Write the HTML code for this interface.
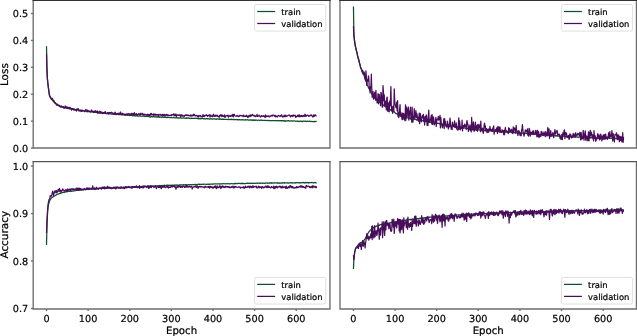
<!DOCTYPE html>
<html><head><meta charset="utf-8"><title>Training curves</title>
<style>html,body{margin:0;padding:0;background:#fff;} svg{display:block;} text{fill:#000;stroke:#000;stroke-width:0.22px;text-rendering:geometricPrecision;}</style>
</head><body>
<svg width="637" height="336" viewBox="0 0 637 336">
<rect x="0" y="0" width="637" height="336" fill="#fff"/>
<clipPath id="c00"><rect x="33.2" y="0.0" width="296.75" height="148.0"/></clipPath>
<g clip-path="url(#c00)">
<polyline points="46.50,46.34 46.92,67.29 47.33,77.61 47.75,82.38 48.16,85.72 48.58,89.35 49.00,92.36 49.41,94.54 49.83,96.32 50.25,97.29 50.66,97.84 51.08,98.51 51.49,99.13 51.91,99.81 52.33,100.13 52.74,100.45 53.16,101.21 53.58,101.49 53.99,102.16 54.41,102.48 54.82,102.97 55.24,103.11 55.66,103.65 56.07,103.76 56.49,104.12 56.91,104.50 57.32,105.18 57.74,105.14 58.15,105.33 58.57,105.55 58.99,106.04 59.40,106.08 59.82,106.36 60.23,106.50 60.65,106.36 61.07,106.81 61.48,106.83 61.90,106.81 62.32,107.17 62.73,107.21 63.15,107.29 63.56,107.40 63.98,107.71 64.40,107.60 64.81,107.49 65.23,108.06 65.65,107.76 66.06,107.97 66.48,108.18 66.89,107.85 67.31,108.14 67.73,108.54 68.14,108.42 68.56,108.42 68.97,108.63 69.39,108.56 69.81,108.76 70.22,108.72 70.64,108.67 71.06,109.08 71.47,109.02 71.89,109.19 72.30,109.17 72.72,109.45 73.14,109.42 73.55,109.43 73.97,109.32 74.39,109.35 74.80,109.82 75.22,109.80 75.63,109.64 76.05,110.13 76.47,109.95 76.88,109.95 77.30,109.80 77.72,109.96 78.13,110.19 78.55,110.26 78.96,110.30 79.38,110.08 79.80,110.45 80.21,110.50 80.63,110.45 81.04,110.59 81.46,110.66 81.88,110.87 82.29,110.75 82.71,110.88 83.13,110.67 83.54,110.81 83.96,110.98 84.37,110.92 84.79,111.14 85.21,110.97 85.62,111.19 86.04,111.15 86.46,111.51 86.87,111.30 87.29,111.68 87.70,111.78 88.12,111.56 88.54,111.70 88.95,111.58 89.37,111.29 89.78,111.84 90.20,111.86 90.62,111.77 91.03,111.77 91.45,111.93 91.87,111.98 92.28,111.88 92.70,111.95 93.11,112.25 93.53,112.14 93.95,112.17 94.36,112.39 94.78,112.22 95.20,112.45 95.61,112.20 96.03,112.37 96.44,112.43 96.86,112.58 97.28,112.55 97.69,112.89 98.11,112.80 98.53,112.60 98.94,113.04 99.36,112.60 99.77,113.06 100.19,112.70 100.61,113.00 101.02,112.78 101.44,112.92 101.85,113.23 102.27,112.82 102.69,112.83 103.10,113.12 103.52,113.19 103.94,113.21 104.35,113.38 104.77,113.09 105.18,113.39 105.60,113.35 106.02,113.51 106.43,113.52 106.85,113.66 107.27,113.29 107.68,113.56 108.10,113.41 108.51,113.60 108.93,113.75 109.35,113.73 109.76,113.81 110.18,113.75 110.59,113.85 111.01,113.88 111.43,114.09 111.84,114.03 112.26,113.67 112.68,114.08 113.09,114.18 113.51,113.99 113.92,113.86 114.34,114.36 114.76,114.19 115.17,114.30 115.59,114.51 116.01,114.15 116.42,114.30 116.84,114.32 117.25,114.49 117.67,114.33 118.09,114.53 118.50,114.50 118.92,114.69 119.34,114.74 119.75,114.36 120.17,114.70 120.58,114.60 121.00,114.69 121.42,114.79 121.83,114.83 122.25,114.68 122.66,114.86 123.08,114.87 123.50,114.88 123.91,114.72 124.33,114.83 124.75,114.91 125.16,115.10 125.58,115.26 125.99,114.92 126.41,114.94 126.83,115.15 127.24,115.07 127.66,115.06 128.08,115.09 128.49,115.10 128.91,115.35 129.32,115.06 129.74,115.54 130.16,115.23 130.57,115.31 130.99,115.28 131.40,115.15 131.82,115.24 132.24,115.69 132.65,115.81 133.07,115.43 133.49,115.75 133.90,115.62 134.32,115.51 134.73,115.94 135.15,116.04 135.57,115.68 135.98,115.74 136.40,115.82 136.82,115.80 137.23,115.97 137.65,116.10 138.06,115.91 138.48,116.07 138.90,116.20 139.31,115.88 139.73,116.00 140.15,115.95 140.56,116.20 140.98,116.17 141.39,116.25 141.81,116.26 142.23,116.11 142.64,116.29 143.06,116.13 143.47,116.16 143.89,115.91 144.31,116.49 144.72,116.14 145.14,116.33 145.56,116.34 145.97,116.59 146.39,116.46 146.80,116.29 147.22,116.44 147.64,116.44 148.05,116.52 148.47,116.31 148.89,116.53 149.30,116.90 149.72,116.68 150.13,116.91 150.55,117.14 150.97,116.72 151.38,116.44 151.80,116.67 152.21,116.89 152.63,116.88 153.05,116.57 153.46,116.74 153.88,116.78 154.30,116.82 154.71,116.83 155.13,116.73 155.54,116.79 155.96,116.86 156.38,117.09 156.79,116.86 157.21,117.07 157.63,116.81 158.04,117.21 158.46,117.05 158.87,117.04 159.29,117.28 159.71,116.81 160.12,116.87 160.54,117.20 160.95,117.02 161.37,117.10 161.79,117.61 162.20,117.16 162.62,117.23 163.04,117.23 163.45,117.44 163.87,117.32 164.28,117.33 164.70,117.13 165.12,117.28 165.53,117.36 165.95,117.13 166.37,117.48 166.78,117.47 167.20,117.72 167.61,117.19 168.03,117.31 168.45,117.34 168.86,117.39 169.28,117.50 169.70,117.50 170.11,117.60 170.53,117.61 170.94,117.58 171.36,117.36 171.78,117.53 172.19,117.65 172.61,117.75 173.02,117.78 173.44,117.43 173.86,117.63 174.27,117.72 174.69,117.80 175.11,117.94 175.52,117.79 175.94,117.65 176.35,117.87 176.77,117.86 177.19,117.88 177.60,117.84 178.02,118.13 178.44,117.93 178.85,118.04 179.27,117.78 179.68,118.06 180.10,117.86 180.52,117.72 180.93,118.03 181.35,118.09 181.77,117.98 182.18,118.02 182.60,118.20 183.01,117.98 183.43,117.74 183.85,118.12 184.26,118.13 184.68,118.28 185.09,118.07 185.51,118.34 185.93,118.33 186.34,117.96 186.76,118.33 187.18,118.02 187.59,117.96 188.01,118.18 188.42,118.14 188.84,117.93 189.26,118.29 189.67,118.37 190.09,118.50 190.51,118.29 190.92,118.07 191.34,118.17 191.75,118.49 192.17,118.49 192.59,118.44 193.00,118.33 193.42,118.42 193.83,118.36 194.25,118.36 194.67,118.47 195.08,118.44 195.50,118.41 195.92,118.47 196.33,118.39 196.75,118.18 197.16,118.40 197.58,118.50 198.00,118.79 198.41,118.47 198.83,118.86 199.25,118.78 199.66,118.43 200.08,118.46 200.49,118.61 200.91,118.88 201.33,118.67 201.74,118.73 202.16,118.53 202.58,118.28 202.99,118.62 203.41,118.79 203.82,118.87 204.24,118.70 204.66,118.73 205.07,118.90 205.49,118.71 205.90,118.92 206.32,118.57 206.74,118.59 207.15,118.60 207.57,118.86 207.99,118.71 208.40,118.83 208.82,118.88 209.23,118.88 209.65,119.05 210.07,119.08 210.48,118.73 210.90,118.90 211.32,118.85 211.73,118.73 212.15,119.19 212.56,119.05 212.98,118.90 213.40,118.88 213.81,119.01 214.23,118.80 214.64,118.94 215.06,119.18 215.48,119.15 215.89,118.88 216.31,118.95 216.73,119.34 217.14,118.83 217.56,118.96 217.97,118.85 218.39,119.14 218.81,119.14 219.22,119.28 219.64,118.70 220.06,119.15 220.47,118.88 220.89,119.25 221.30,119.13 221.72,119.44 222.14,119.25 222.55,119.04 222.97,119.41 223.39,119.05 223.80,119.18 224.22,119.41 224.63,119.34 225.05,119.34 225.47,119.29 225.88,119.38 226.30,119.44 226.71,119.36 227.13,119.49 227.55,119.55 227.96,119.36 228.38,119.22 228.80,119.62 229.21,119.38 229.63,119.50 230.04,119.57 230.46,119.28 230.88,119.52 231.29,119.20 231.71,119.58 232.13,119.41 232.54,119.52 232.96,119.61 233.37,119.41 233.79,119.54 234.21,119.43 234.62,119.55 235.04,119.73 235.45,119.58 235.87,119.57 236.29,119.43 236.70,119.74 237.12,119.62 237.54,119.90 237.95,119.53 238.37,119.82 238.78,119.95 239.20,119.68 239.62,119.50 240.03,119.94 240.45,119.88 240.87,119.84 241.28,119.91 241.70,119.68 242.11,119.88 242.53,119.88 242.95,119.68 243.36,119.91 243.78,119.73 244.19,119.97 244.61,120.02 245.03,120.13 245.44,119.54 245.86,119.91 246.28,119.83 246.69,119.88 247.11,119.86 247.52,119.89 247.94,119.61 248.36,120.09 248.77,120.19 249.19,120.11 249.61,120.18 250.02,119.85 250.44,119.85 250.85,120.15 251.27,120.23 251.69,120.07 252.10,119.80 252.52,120.49 252.94,119.97 253.35,120.24 253.77,119.90 254.18,120.26 254.60,120.14 255.02,120.35 255.43,120.28 255.85,119.91 256.26,120.01 256.68,120.22 257.10,120.30 257.51,120.48 257.93,120.25 258.35,120.20 258.76,120.22 259.18,120.23 259.59,120.41 260.01,120.25 260.43,120.26 260.84,120.05 261.26,119.97 261.68,120.31 262.09,120.42 262.51,120.32 262.92,120.41 263.34,120.45 263.76,120.35 264.17,120.52 264.59,120.26 265.00,120.39 265.42,120.34 265.84,120.42 266.25,120.52 266.67,120.57 267.09,120.46 267.50,120.52 267.92,120.41 268.33,120.46 268.75,120.69 269.17,120.46 269.58,120.70 270.00,120.60 270.42,120.55 270.83,120.85 271.25,120.51 271.66,120.51 272.08,120.57 272.50,120.63 272.91,120.63 273.33,120.74 273.75,120.63 274.16,120.69 274.58,120.60 274.99,120.82 275.41,120.59 275.83,120.62 276.24,120.67 276.66,120.73 277.07,120.58 277.49,120.95 277.91,120.62 278.32,120.66 278.74,120.67 279.16,120.66 279.57,120.84 279.99,120.78 280.40,120.65 280.82,120.69 281.24,120.74 281.65,121.03 282.07,120.71 282.49,120.61 282.90,120.65 283.32,120.79 283.73,121.08 284.15,120.69 284.57,120.88 284.98,121.27 285.40,120.81 285.81,121.12 286.23,121.10 286.65,121.01 287.06,120.71 287.48,120.98 287.90,120.89 288.31,120.66 288.73,120.69 289.14,120.98 289.56,121.01 289.98,121.18 290.39,121.10 290.81,120.93 291.23,120.95 291.64,121.00 292.06,120.87 292.47,121.16 292.89,121.06 293.31,120.94 293.72,120.97 294.14,120.91 294.56,121.02 294.97,121.15 295.39,121.05 295.80,121.28 296.22,121.39 296.64,121.04 297.05,121.15 297.47,121.11 297.88,121.44 298.30,121.23 298.72,121.28 299.13,121.33 299.55,121.57 299.97,121.27 300.38,121.08 300.80,121.17 301.21,121.34 301.63,121.25 302.05,121.14 302.46,121.72 302.88,121.30 303.30,121.20 303.71,121.19 304.13,121.03 304.54,121.13 304.96,121.28 305.38,121.29 305.79,121.22 306.21,121.44 306.62,121.37 307.04,121.23 307.46,121.07 307.87,121.42 308.29,121.41 308.71,121.38 309.12,121.20 309.54,121.43 309.95,121.20 310.37,121.60 310.79,121.49 311.20,121.50 311.62,121.35 312.04,121.31 312.45,121.74 312.87,121.65 313.28,121.46 313.70,121.63 314.12,121.78 314.53,121.37 314.95,121.47 315.37,121.48 315.78,121.64 316.20,121.41 316.61,121.62" fill="none" stroke="#0f4f2c" stroke-width="1.25" stroke-linejoin="round" stroke-linecap="butt"/>
<polyline points="46.50,53.88 46.92,69.28 47.33,78.12 47.75,82.05 48.16,86.10 48.58,88.79 49.00,92.27 49.41,95.40 49.83,96.16 50.25,97.29 50.66,97.11 51.08,98.71 51.49,99.15 51.91,98.59 52.33,98.39 52.74,99.00 53.16,100.68 53.58,101.01 53.99,100.59 54.41,102.08 54.82,103.04 55.24,102.73 55.66,102.89 56.07,104.07 56.49,104.94 56.91,105.13 57.32,104.07 57.74,105.28 58.15,105.14 58.57,105.16 58.99,105.13 59.40,105.95 59.82,105.61 60.23,106.68 60.65,106.50 61.07,107.08 61.48,105.82 61.90,106.70 62.32,107.29 62.73,107.15 63.15,107.18 63.56,106.69 63.98,108.28 64.40,108.02 64.81,107.69 65.23,105.90 65.65,107.01 66.06,107.79 66.48,107.35 66.89,106.57 67.31,108.14 67.73,108.31 68.14,107.38 68.56,107.93 68.97,107.90 69.39,108.74 69.81,107.24 70.22,107.46 70.64,108.27 71.06,108.27 71.47,110.10 71.89,108.45 72.30,109.06 72.72,108.72 73.14,108.63 73.55,109.36 73.97,110.30 74.39,109.03 74.80,109.81 75.22,109.61 75.63,109.85 76.05,109.75 76.47,111.08 76.88,108.86 77.30,109.55 77.72,109.05 78.13,108.55 78.55,109.87 78.96,111.11 79.38,110.58 79.80,110.84 80.21,110.44 80.63,110.12 81.04,111.52 81.46,110.06 81.88,111.31 82.29,110.19 82.71,110.50 83.13,110.69 83.54,110.58 83.96,110.93 84.37,111.03 84.79,111.77 85.21,110.75 85.62,109.58 86.04,109.54 86.46,110.02 86.87,110.46 87.29,111.40 87.70,110.07 88.12,111.09 88.54,111.14 88.95,111.33 89.37,111.12 89.78,111.50 90.20,111.32 90.62,112.01 91.03,111.59 91.45,109.92 91.87,111.47 92.28,111.62 92.70,111.17 93.11,111.09 93.53,112.31 93.95,111.76 94.36,111.07 94.78,111.53 95.20,111.66 95.61,110.77 96.03,112.25 96.44,111.80 96.86,112.23 97.28,110.96 97.69,113.22 98.11,112.43 98.53,112.37 98.94,111.64 99.36,111.71 99.77,111.24 100.19,113.19 100.61,111.72 101.02,112.43 101.44,112.70 101.85,111.96 102.27,112.93 102.69,113.71 103.10,112.64 103.52,113.40 103.94,112.89 104.35,112.26 104.77,112.33 105.18,111.54 105.60,112.72 106.02,113.61 106.43,113.14 106.85,113.28 107.27,113.50 107.68,112.46 108.10,113.19 108.51,114.08 108.93,112.38 109.35,112.94 109.76,112.66 110.18,112.86 110.59,112.54 111.01,112.96 111.43,112.21 111.84,112.77 112.26,112.82 112.68,112.84 113.09,114.07 113.51,113.27 113.92,113.36 114.34,113.08 114.76,114.13 115.17,112.22 115.59,113.24 116.01,114.12 116.42,114.47 116.84,113.57 117.25,113.48 117.67,113.91 118.09,113.41 118.50,113.91 118.92,113.17 119.34,114.02 119.75,113.60 120.17,112.97 120.58,111.97 121.00,114.31 121.42,113.98 121.83,114.25 122.25,113.23 122.66,114.50 123.08,114.09 123.50,113.82 123.91,114.46 124.33,114.47 124.75,114.18 125.16,115.25 125.58,114.85 125.99,114.20 126.41,113.86 126.83,114.10 127.24,115.14 127.66,114.32 128.08,113.52 128.49,113.70 128.91,114.12 129.32,114.67 129.74,113.70 130.16,114.50 130.57,114.90 130.99,114.68 131.40,113.24 131.82,114.05 132.24,113.46 132.65,114.54 133.07,113.64 133.49,114.65 133.90,114.38 134.32,112.68 134.73,113.81 135.15,114.64 135.57,114.39 135.98,114.14 136.40,113.58 136.82,114.70 137.23,115.52 137.65,114.59 138.06,114.41 138.48,114.37 138.90,113.60 139.31,114.26 139.73,113.96 140.15,115.21 140.56,113.95 140.98,113.17 141.39,114.04 141.81,114.39 142.23,114.46 142.64,113.42 143.06,115.19 143.47,114.67 143.89,114.32 144.31,114.15 144.72,114.92 145.14,114.45 145.56,114.84 145.97,114.60 146.39,114.77 146.80,115.44 147.22,114.73 147.64,114.16 148.05,115.36 148.47,114.90 148.89,114.33 149.30,115.46 149.72,114.66 150.13,115.48 150.55,114.07 150.97,113.32 151.38,113.52 151.80,114.98 152.21,114.37 152.63,114.78 153.05,114.80 153.46,113.88 153.88,115.74 154.30,114.22 154.71,114.94 155.13,114.01 155.54,114.81 155.96,115.38 156.38,114.77 156.79,114.49 157.21,114.95 157.63,114.67 158.04,115.33 158.46,116.38 158.87,114.43 159.29,114.57 159.71,114.93 160.12,114.99 160.54,114.38 160.95,115.35 161.37,115.52 161.79,115.19 162.20,114.31 162.62,115.99 163.04,114.33 163.45,115.52 163.87,115.83 164.28,114.31 164.70,115.20 165.12,115.98 165.53,115.38 165.95,114.56 166.37,114.40 166.78,115.45 167.20,114.92 167.61,114.73 168.03,115.61 168.45,114.97 168.86,115.23 169.28,115.57 169.70,115.54 170.11,115.19 170.53,115.22 170.94,115.61 171.36,115.53 171.78,114.54 172.19,115.13 172.61,114.71 173.02,114.51 173.44,114.91 173.86,113.83 174.27,115.84 174.69,114.79 175.11,115.52 175.52,114.13 175.94,114.23 176.35,116.60 176.77,115.97 177.19,114.92 177.60,114.85 178.02,114.89 178.44,115.41 178.85,115.08 179.27,114.96 179.68,115.44 180.10,114.73 180.52,116.86 180.93,114.99 181.35,116.08 181.77,114.80 182.18,115.57 182.60,116.00 183.01,115.19 183.43,116.03 183.85,116.03 184.26,116.46 184.68,115.47 185.09,115.14 185.51,114.81 185.93,115.56 186.34,114.80 186.76,115.47 187.18,115.55 187.59,115.12 188.01,114.82 188.42,115.72 188.84,115.67 189.26,115.62 189.67,115.47 190.09,116.11 190.51,114.87 190.92,115.79 191.34,115.24 191.75,116.08 192.17,115.32 192.59,115.30 193.00,115.83 193.42,114.26 193.83,115.33 194.25,114.43 194.67,114.96 195.08,116.01 195.50,115.84 195.92,115.31 196.33,115.56 196.75,115.57 197.16,115.79 197.58,116.78 198.00,115.76 198.41,117.05 198.83,115.39 199.25,116.10 199.66,116.10 200.08,115.78 200.49,115.47 200.91,116.57 201.33,116.78 201.74,116.34 202.16,116.98 202.58,116.29 202.99,114.64 203.41,116.35 203.82,115.25 204.24,116.56 204.66,115.49 205.07,115.89 205.49,115.73 205.90,115.33 206.32,114.56 206.74,115.57 207.15,115.62 207.57,116.34 207.99,115.33 208.40,115.87 208.82,115.18 209.23,115.75 209.65,114.60 210.07,117.01 210.48,115.92 210.90,115.16 211.32,115.96 211.73,116.25 212.15,115.91 212.56,116.64 212.98,115.67 213.40,114.17 213.81,115.01 214.23,116.47 214.64,116.32 215.06,116.02 215.48,115.12 215.89,116.30 216.31,116.22 216.73,115.20 217.14,115.22 217.56,116.02 217.97,116.50 218.39,116.78 218.81,116.24 219.22,117.23 219.64,115.30 220.06,116.20 220.47,115.48 220.89,114.59 221.30,115.04 221.72,116.54 222.14,115.24 222.55,115.05 222.97,116.29 223.39,116.42 223.80,115.88 224.22,116.84 224.63,114.86 225.05,117.37 225.47,116.53 225.88,115.99 226.30,115.97 226.71,115.71 227.13,115.65 227.55,115.96 227.96,115.09 228.38,117.21 228.80,115.83 229.21,116.29 229.63,115.75 230.04,115.69 230.46,116.43 230.88,116.25 231.29,115.33 231.71,115.62 232.13,116.28 232.54,114.53 232.96,114.35 233.37,116.79 233.79,115.66 234.21,114.23 234.62,115.35 235.04,115.71 235.45,115.99 235.87,116.21 236.29,116.00 236.70,116.22 237.12,115.38 237.54,116.12 237.95,116.15 238.37,116.64 238.78,115.90 239.20,116.45 239.62,115.99 240.03,115.20 240.45,115.64 240.87,115.55 241.28,115.65 241.70,115.84 242.11,115.96 242.53,116.08 242.95,115.39 243.36,116.59 243.78,115.02 244.19,115.87 244.61,116.37 245.03,116.21 245.44,116.33 245.86,115.79 246.28,116.36 246.69,115.16 247.11,116.40 247.52,117.37 247.94,116.37 248.36,117.20 248.77,115.93 249.19,115.22 249.61,115.48 250.02,116.77 250.44,116.40 250.85,114.76 251.27,115.70 251.69,115.91 252.10,115.23 252.52,114.33 252.94,115.07 253.35,115.82 253.77,115.68 254.18,115.51 254.60,116.31 255.02,116.60 255.43,115.88 255.85,116.53 256.26,115.96 256.68,115.86 257.10,114.41 257.51,116.47 257.93,116.00 258.35,116.03 258.76,115.64 259.18,115.25 259.59,116.24 260.01,116.45 260.43,116.98 260.84,116.52 261.26,115.58 261.68,115.90 262.09,116.58 262.51,116.17 262.92,115.91 263.34,115.60 263.76,116.31 264.17,116.09 264.59,117.10 265.00,116.67 265.42,114.88 265.84,117.34 266.25,116.15 266.67,115.79 267.09,116.17 267.50,116.45 267.92,115.97 268.33,115.93 268.75,115.98 269.17,117.14 269.58,116.03 270.00,116.48 270.42,116.28 270.83,115.78 271.25,115.52 271.66,115.35 272.08,116.25 272.50,115.33 272.91,115.17 273.33,115.20 273.75,115.03 274.16,116.02 274.58,116.04 274.99,115.40 275.41,116.81 275.83,115.80 276.24,116.27 276.66,116.17 277.07,117.06 277.49,116.51 277.91,115.94 278.32,115.36 278.74,115.29 279.16,115.98 279.57,116.05 279.99,116.47 280.40,115.67 280.82,116.09 281.24,115.54 281.65,114.80 282.07,115.95 282.49,116.90 282.90,116.49 283.32,116.87 283.73,116.70 284.15,115.09 284.57,115.78 284.98,116.91 285.40,115.51 285.81,115.12 286.23,116.16 286.65,116.37 287.06,116.15 287.48,115.75 287.90,115.52 288.31,115.17 288.73,115.15 289.14,115.16 289.56,115.05 289.98,115.50 290.39,116.92 290.81,116.02 291.23,115.73 291.64,116.18 292.06,115.34 292.47,116.16 292.89,116.53 293.31,115.00 293.72,115.50 294.14,115.79 294.56,115.33 294.97,115.24 295.39,115.71 295.80,117.52 296.22,116.37 296.64,116.23 297.05,116.57 297.47,115.80 297.88,115.16 298.30,116.24 298.72,116.66 299.13,114.62 299.55,116.22 299.97,116.73 300.38,115.78 300.80,115.66 301.21,116.39 301.63,115.42 302.05,116.25 302.46,116.53 302.88,115.82 303.30,115.43 303.71,116.34 304.13,115.72 304.54,115.99 304.96,114.11 305.38,116.39 305.79,115.04 306.21,115.96 306.62,116.01 307.04,115.46 307.46,115.35 307.87,115.11 308.29,115.72 308.71,116.32 309.12,116.28 309.54,115.60 309.95,115.56 310.37,115.03 310.79,115.66 311.20,115.25 311.62,114.95 312.04,115.82 312.45,116.89 312.87,116.69 313.28,116.86 313.70,114.90 314.12,116.48 314.53,115.13 314.95,115.55 315.37,114.82 315.78,115.28 316.20,116.00 316.61,116.06" fill="none" stroke="#4a0d5c" stroke-width="1.25" stroke-linejoin="round" stroke-linecap="butt"/>
</g>
<clipPath id="c10"><rect x="340.0" y="0.0" width="296.45000000000005" height="148.0"/></clipPath>
<g clip-path="url(#c10)">
<polyline points="353.45,6.48 353.87,32.31 354.28,38.66 354.70,42.19 355.11,44.35 355.53,47.10 355.95,48.55 356.36,50.62 356.78,52.20 357.20,53.86 357.61,55.81 358.03,57.32 358.44,59.46 358.86,60.43 359.28,62.30 359.69,63.57 360.11,65.19 360.53,67.26 360.94,68.26 361.36,69.35 361.77,70.24 362.19,71.54 362.61,72.48 363.02,73.73 363.44,74.02 363.86,74.90 364.27,76.33 364.69,77.56 365.10,79.11 365.52,79.85 365.94,80.73 366.35,82.37 366.77,83.39 367.18,84.59 367.60,85.87 368.02,86.27 368.43,87.68 368.85,88.29 369.27,88.99 369.68,89.64 370.10,90.52 370.51,91.30 370.93,92.30 371.35,93.16 371.76,93.59 372.18,94.45 372.60,95.23 373.01,95.84 373.43,96.25 373.84,97.09 374.26,97.49 374.68,98.05 375.09,98.13 375.51,98.53 375.92,98.62 376.34,99.79 376.76,100.02 377.17,100.06 377.59,100.68 378.01,101.07 378.42,100.97 378.84,101.73 379.25,102.23 379.67,102.57 380.09,102.52 380.50,102.84 380.92,103.51 381.34,103.73 381.75,103.72 382.17,104.02 382.58,104.59 383.00,104.63 383.42,104.95 383.83,105.76 384.25,105.74 384.66,105.88 385.08,106.39 385.50,107.02 385.91,106.91 386.33,106.98 386.75,107.08 387.16,108.18 387.58,107.42 387.99,108.50 388.41,108.32 388.83,108.53 389.24,108.85 389.66,109.30 390.08,109.84 390.49,109.72 390.91,110.26 391.32,110.91 391.74,110.01 392.16,110.72 392.57,110.73 392.99,111.57 393.41,111.31 393.82,111.53 394.24,111.79 394.65,112.39 395.07,112.90 395.49,112.94 395.90,113.63 396.32,113.77 396.73,113.64 397.15,114.11 397.57,114.17 397.98,114.39 398.40,114.18 398.82,114.53 399.23,115.02 399.65,114.95 400.06,115.56 400.48,115.64 400.90,115.54 401.31,116.17 401.73,116.13 402.15,116.51 402.56,116.35 402.98,116.17 403.39,116.83 403.81,116.76 404.23,117.14 404.64,117.32 405.06,117.47 405.47,117.02 405.89,116.94 406.31,117.46 406.72,117.83 407.14,117.64 407.56,117.97 407.97,117.83 408.39,118.04 408.80,118.14 409.22,118.16 409.64,118.51 410.05,118.57 410.47,118.94 410.89,118.75 411.30,119.05 411.72,118.85 412.13,119.11 412.55,118.96 412.97,118.97 413.38,119.45 413.80,119.40 414.22,119.50 414.63,119.22 415.05,119.09 415.46,119.35 415.88,119.68 416.30,119.37 416.71,120.08 417.13,119.51 417.54,120.05 417.96,120.58 418.38,119.49 418.79,119.80 419.21,120.44 419.63,120.26 420.04,120.42 420.46,120.43 420.87,120.85 421.29,120.75 421.71,120.58 422.12,120.71 422.54,120.58 422.96,120.90 423.37,120.48 423.79,121.22 424.20,121.09 424.62,121.63 425.04,121.56 425.45,121.08 425.87,121.64 426.28,121.40 426.70,121.60 427.12,121.89 427.53,121.81 427.95,121.92 428.37,121.99 428.78,121.79 429.20,121.89 429.61,122.23 430.03,122.37 430.45,122.19 430.86,122.34 431.28,122.17 431.70,121.90 432.11,122.36 432.53,122.62 432.94,122.72 433.36,122.94 433.78,123.03 434.19,123.12 434.61,123.06 435.03,123.14 435.44,122.97 435.86,123.28 436.27,123.32 436.69,123.61 437.11,123.07 437.52,123.39 437.94,123.19 438.35,123.48 438.77,123.40 439.19,123.85 439.60,123.72 440.02,123.37 440.44,124.29 440.85,123.85 441.27,123.82 441.68,124.17 442.10,124.17 442.52,124.14 442.93,124.63 443.35,124.48 443.77,124.83 444.18,124.87 444.60,124.93 445.01,124.90 445.43,124.91 445.85,124.92 446.26,125.41 446.68,124.74 447.10,124.99 447.51,125.16 447.93,125.48 448.34,125.49 448.76,125.42 449.18,125.53 449.59,126.06 450.01,125.60 450.42,125.19 450.84,126.31 451.26,125.76 451.67,125.96 452.09,126.14 452.51,125.88 452.92,126.51 453.34,126.28 453.75,126.06 454.17,126.50 454.59,126.61 455.00,126.56 455.42,126.75 455.84,126.37 456.25,126.98 456.67,126.65 457.08,127.18 457.50,126.82 457.92,127.05 458.33,127.66 458.75,127.15 459.16,127.45 459.58,127.37 460.00,126.99 460.41,127.64 460.83,127.69 461.25,127.20 461.66,127.55 462.08,127.30 462.49,127.63 462.91,127.95 463.33,127.83 463.74,127.60 464.16,127.73 464.58,127.99 464.99,128.04 465.41,128.14 465.82,128.30 466.24,127.80 466.66,128.28 467.07,128.59 467.49,128.50 467.90,128.29 468.32,128.36 468.74,128.59 469.15,128.76 469.57,128.67 469.99,129.10 470.40,129.07 470.82,128.65 471.23,128.99 471.65,128.85 472.07,128.72 472.48,128.89 472.90,129.08 473.32,128.67 473.73,129.04 474.15,129.32 474.56,129.12 474.98,129.24 475.40,129.57 475.81,129.41 476.23,129.51 476.65,129.95 477.06,129.60 477.48,129.67 477.89,129.75 478.31,130.06 478.73,129.82 479.14,129.79 479.56,129.80 479.97,130.12 480.39,129.76 480.81,130.21 481.22,130.03 481.64,129.73 482.06,130.21 482.47,130.21 482.89,129.89 483.30,130.25 483.72,130.27 484.14,130.19 484.55,130.04 484.97,130.79 485.39,130.52 485.80,130.59 486.22,130.64 486.63,130.62 487.05,130.65 487.47,130.43 487.88,130.72 488.30,130.53 488.72,130.50 489.13,130.78 489.55,130.61 489.96,130.31 490.38,130.63 490.80,130.87 491.21,130.77 491.63,130.99 492.04,130.75 492.46,130.65 492.88,131.05 493.29,130.94 493.71,130.68 494.13,131.06 494.54,130.94 494.96,131.23 495.37,131.21 495.79,131.17 496.21,130.62 496.62,131.20 497.04,131.26 497.46,131.29 497.87,131.23 498.29,131.09 498.70,131.21 499.12,130.84 499.54,131.27 499.95,131.03 500.37,131.31 500.78,131.27 501.20,131.74 501.62,131.48 502.03,131.50 502.45,131.57 502.87,132.01 503.28,131.39 503.70,131.69 504.11,131.73 504.53,131.72 504.95,131.75 505.36,131.64 505.78,132.04 506.20,132.00 506.61,131.77 507.03,131.83 507.44,131.98 507.86,132.05 508.28,132.14 508.69,132.01 509.11,131.78 509.52,132.30 509.94,131.78 510.36,131.96 510.77,132.27 511.19,132.04 511.61,132.56 512.02,132.65 512.44,132.59 512.85,132.44 513.27,132.46 513.69,132.54 514.10,132.44 514.52,132.96 514.94,132.43 515.35,132.88 515.77,132.75 516.18,132.73 516.60,132.93 517.02,133.01 517.43,132.97 517.85,132.79 518.27,132.70 518.68,132.74 519.10,133.12 519.51,133.11 519.93,133.17 520.35,132.91 520.76,133.49 521.18,132.82 521.59,133.22 522.01,133.33 522.43,133.12 522.84,133.01 523.26,133.19 523.68,133.07 524.09,133.31 524.51,133.11 524.92,133.14 525.34,133.46 525.76,133.17 526.17,133.48 526.59,133.53 527.01,133.78 527.42,133.68 527.84,133.48 528.25,133.97 528.67,133.58 529.09,133.68 529.50,133.73 529.92,134.30 530.34,133.88 530.75,133.75 531.17,134.08 531.58,133.93 532.00,134.50 532.42,133.87 532.83,134.19 533.25,133.89 533.66,134.51 534.08,133.99 534.50,134.23 534.91,134.03 535.33,134.44 535.75,134.40 536.16,133.82 536.58,134.51 536.99,134.51 537.41,134.45 537.83,134.65 538.24,134.20 538.66,134.12 539.08,134.67 539.49,134.92 539.91,134.33 540.32,134.37 540.74,134.47 541.16,134.43 541.57,134.89 541.99,134.77 542.40,135.07 542.82,135.10 543.24,134.62 543.65,135.00 544.07,134.40 544.49,134.90 544.90,135.09 545.32,134.81 545.73,134.62 546.15,134.94 546.57,135.33 546.98,135.02 547.40,134.83 547.82,135.27 548.23,135.36 548.65,135.00 549.06,135.22 549.48,135.52 549.90,135.39 550.31,135.50 550.73,135.30 551.14,135.37 551.56,135.18 551.98,135.30 552.39,135.82 552.81,135.42 553.23,135.35 553.64,135.47 554.06,135.37 554.47,135.74 554.89,135.86 555.31,135.48 555.72,135.94 556.14,136.20 556.56,135.54 556.97,135.95 557.39,135.88 557.80,136.15 558.22,136.16 558.64,136.15 559.05,136.00 559.47,135.87 559.89,136.47 560.30,135.84 560.72,136.29 561.13,136.29 561.55,135.94 561.97,136.13 562.38,136.47 562.80,135.76 563.21,136.37 563.63,136.16 564.05,136.19 564.46,135.96 564.88,136.38 565.30,136.09 565.71,136.50 566.13,136.12 566.54,136.55 566.96,136.49 567.38,136.02 567.79,136.39 568.21,136.46 568.63,136.02 569.04,136.45 569.46,136.73 569.87,136.41 570.29,136.85 570.71,136.37 571.12,136.38 571.54,136.79 571.95,136.82 572.37,136.67 572.79,136.73 573.20,136.96 573.62,136.65 574.04,137.23 574.45,136.91 574.87,136.92 575.28,136.92 575.70,136.81 576.12,137.16 576.53,136.79 576.95,136.98 577.37,137.10 577.78,137.28 578.20,137.26 578.61,136.95 579.03,137.25 579.45,137.05 579.86,136.86 580.28,136.88 580.70,136.79 581.11,137.21 581.53,137.40 581.94,136.96 582.36,137.14 582.78,136.98 583.19,137.24 583.61,137.00 584.02,137.10 584.44,137.15 584.86,137.21 585.27,137.25 585.69,137.31 586.11,137.33 586.52,137.18 586.94,137.53 587.35,137.06 587.77,137.48 588.19,137.26 588.60,137.51 589.02,137.56 589.44,137.09 589.85,137.61 590.27,137.84 590.68,137.74 591.10,137.67 591.52,137.15 591.93,137.59 592.35,137.45 592.76,137.89 593.18,137.61 593.60,137.56 594.01,137.34 594.43,137.89 594.85,137.63 595.26,137.71 595.68,138.01 596.09,137.81 596.51,137.88 596.93,138.35 597.34,137.73 597.76,137.76 598.18,137.99 598.59,138.20 599.01,137.61 599.42,137.89 599.84,137.74 600.26,137.67 600.67,138.11 601.09,137.84 601.51,138.08 601.92,138.06 602.34,138.08 602.75,138.08 603.17,137.85 603.59,138.08 604.00,138.16 604.42,138.20 604.83,138.08 605.25,138.36 605.67,138.29 606.08,138.21 606.50,138.34 606.92,138.26 607.33,138.38 607.75,137.83 608.16,137.99 608.58,138.19 609.00,138.32 609.41,137.85 609.83,138.27 610.25,138.37 610.66,138.30 611.08,138.31 611.49,138.09 611.91,138.41 612.33,137.97 612.74,138.63 613.16,138.30 613.58,138.68 613.99,138.09 614.41,138.57 614.82,138.52 615.24,138.32 615.66,138.27 616.07,138.79 616.49,138.64 616.90,138.88 617.32,138.56 617.74,138.63 618.15,138.69 618.57,138.78 618.99,138.73 619.40,138.82 619.82,138.56 620.23,138.36 620.65,139.11 621.07,138.73 621.48,138.81 621.90,138.63 622.32,138.95 622.73,138.79 623.15,139.00 623.56,138.64" fill="none" stroke="#0f4f2c" stroke-width="1.25" stroke-linejoin="round" stroke-linecap="butt"/>
<polyline points="353.45,26.15 353.87,36.38 354.28,38.58 354.70,42.09 355.11,44.42 355.53,46.87 355.95,48.34 356.36,50.49 356.78,51.74 357.20,53.29 357.61,55.95 358.03,57.37 358.44,58.62 358.86,59.51 359.28,62.34 359.69,63.77 360.11,65.19 360.53,67.16 360.94,68.63 361.36,68.69 361.77,70.72 362.19,72.09 362.61,70.35 363.02,73.82 363.44,72.87 363.86,71.87 364.27,72.36 364.69,76.65 365.10,76.80 365.52,80.59 365.94,70.94 366.35,76.95 366.77,85.35 367.18,81.75 367.60,79.69 368.02,81.04 368.43,75.77 368.85,78.36 369.27,88.55 369.68,86.85 370.10,92.97 370.51,86.53 370.93,87.99 371.35,74.19 371.76,89.40 372.18,97.21 372.60,95.54 373.01,91.49 373.43,99.03 373.84,98.56 374.26,96.00 374.68,92.37 375.09,95.46 375.51,100.15 375.92,90.32 376.34,99.35 376.76,99.34 377.17,102.89 377.59,101.70 378.01,93.62 378.42,103.81 378.84,98.56 379.25,94.42 379.67,101.21 380.09,97.54 380.50,105.70 380.92,92.26 381.34,93.72 381.75,98.79 382.17,106.90 382.58,107.17 383.00,85.60 383.42,91.42 383.83,100.50 384.25,94.95 384.66,105.91 385.08,103.99 385.50,103.52 385.91,100.96 386.33,109.91 386.75,98.14 387.16,97.03 387.58,110.37 387.99,111.45 388.41,102.84 388.83,108.86 389.24,111.82 389.66,101.19 390.08,105.51 390.49,99.09 390.91,86.60 391.32,106.69 391.74,110.94 392.16,106.73 392.57,113.31 392.99,112.55 393.41,105.70 393.82,111.33 394.24,88.86 394.65,99.46 395.07,104.62 395.49,105.03 395.90,107.32 396.32,107.75 396.73,102.20 397.15,110.98 397.57,100.64 397.98,116.46 398.40,112.41 398.82,117.64 399.23,113.77 399.65,109.04 400.06,104.66 400.48,116.15 400.90,112.49 401.31,115.08 401.73,117.05 402.15,119.69 402.56,113.10 402.98,119.36 403.39,113.37 403.81,113.79 404.23,117.66 404.64,119.65 405.06,120.69 405.47,104.82 405.89,120.17 406.31,106.98 406.72,112.15 407.14,116.74 407.56,111.33 407.97,107.76 408.39,107.04 408.80,120.04 409.22,117.02 409.64,110.95 410.05,113.61 410.47,107.02 410.89,118.93 411.30,114.06 411.72,122.12 412.13,107.06 412.55,119.90 412.97,122.23 413.38,116.33 413.80,117.68 414.22,108.64 414.63,118.42 415.05,116.86 415.46,114.49 415.88,110.55 416.30,117.42 416.71,113.38 417.13,115.08 417.54,119.14 417.96,118.08 418.38,117.21 418.79,121.55 419.21,113.15 419.63,123.60 420.04,113.36 420.46,114.31 420.87,119.15 421.29,121.88 421.71,119.47 422.12,116.70 422.54,115.46 422.96,117.69 423.37,114.38 423.79,121.51 424.20,118.14 424.62,125.07 425.04,116.49 425.45,118.51 425.87,121.38 426.28,114.79 426.70,116.91 427.12,125.37 427.53,119.76 427.95,125.42 428.37,115.88 428.78,110.09 429.20,122.09 429.61,120.10 430.03,121.53 430.45,119.01 430.86,118.03 431.28,115.39 431.70,123.94 432.11,114.53 432.53,124.45 432.94,119.92 433.36,116.79 433.78,118.59 434.19,124.98 434.61,124.02 435.03,122.74 435.44,121.48 435.86,117.33 436.27,126.48 436.69,120.23 437.11,119.18 437.52,119.71 437.94,119.86 438.35,116.31 438.77,120.03 439.19,119.16 439.60,118.38 440.02,115.33 440.44,127.93 440.85,117.71 441.27,123.23 441.68,123.66 442.10,126.12 442.52,127.79 442.93,124.50 443.35,125.42 443.77,118.94 444.18,128.53 444.60,118.51 445.01,122.53 445.43,121.30 445.85,125.95 446.26,126.70 446.68,127.19 447.10,125.45 447.51,121.23 447.93,124.69 448.34,128.87 448.76,124.94 449.18,127.14 449.59,124.16 450.01,118.06 450.42,121.77 450.84,125.99 451.26,129.24 451.67,129.25 452.09,129.60 452.51,122.20 452.92,126.47 453.34,124.77 453.75,126.75 454.17,124.90 454.59,120.86 455.00,127.44 455.42,126.54 455.84,127.62 456.25,122.97 456.67,128.57 457.08,129.43 457.50,129.85 457.92,130.14 458.33,124.95 458.75,117.99 459.16,129.26 459.58,120.92 460.00,124.97 460.41,129.78 460.83,127.29 461.25,126.67 461.66,128.42 462.08,120.16 462.49,130.89 462.91,125.55 463.33,125.59 463.74,128.13 464.16,126.04 464.58,124.10 464.99,126.35 465.41,125.64 465.82,124.97 466.24,129.54 466.66,122.59 467.07,120.49 467.49,124.32 467.90,124.02 468.32,131.39 468.74,126.01 469.15,129.99 469.57,129.22 469.99,124.99 470.40,130.27 470.82,127.84 471.23,131.93 471.65,117.42 472.07,127.25 472.48,129.79 472.90,130.03 473.32,121.86 473.73,129.89 474.15,131.24 474.56,130.33 474.98,124.50 475.40,122.17 475.81,127.24 476.23,130.44 476.65,130.03 477.06,125.28 477.48,131.17 477.89,124.30 478.31,124.72 478.73,128.44 479.14,126.72 479.56,126.43 479.97,124.40 480.39,131.67 480.81,121.09 481.22,129.96 481.64,130.80 482.06,128.75 482.47,128.20 482.89,131.60 483.30,133.40 483.72,130.72 484.14,124.83 484.55,123.21 484.97,127.76 485.39,125.95 485.80,130.93 486.22,129.72 486.63,128.66 487.05,132.61 487.47,132.13 487.88,129.30 488.30,130.31 488.72,132.26 489.13,128.54 489.55,130.23 489.96,126.27 490.38,129.51 490.80,130.60 491.21,129.28 491.63,130.35 492.04,131.52 492.46,130.67 492.88,127.81 493.29,127.93 493.71,125.93 494.13,134.14 494.54,130.93 494.96,131.29 495.37,129.62 495.79,131.33 496.21,130.95 496.62,127.90 497.04,129.65 497.46,133.45 497.87,126.41 498.29,127.20 498.70,131.72 499.12,127.43 499.54,132.21 499.95,126.81 500.37,130.82 500.78,132.40 501.20,131.68 501.62,132.51 502.03,129.88 502.45,130.00 502.87,130.83 503.28,131.84 503.70,134.71 504.11,130.40 504.53,134.74 504.95,130.01 505.36,127.48 505.78,130.22 506.20,131.99 506.61,131.19 507.03,131.13 507.44,132.41 507.86,132.58 508.28,133.59 508.69,127.73 509.11,130.76 509.52,128.65 509.94,131.40 510.36,130.71 510.77,131.68 511.19,129.74 511.61,129.29 512.02,130.96 512.44,133.36 512.85,133.49 513.27,126.97 513.69,132.24 514.10,129.16 514.52,128.01 514.94,128.49 515.35,130.42 515.77,132.78 516.18,125.44 516.60,130.86 517.02,130.53 517.43,132.40 517.85,135.51 518.27,133.30 518.68,130.65 519.10,131.06 519.51,132.72 519.93,135.24 520.35,135.69 520.76,133.33 521.18,135.63 521.59,129.84 522.01,129.27 522.43,124.64 522.84,129.67 523.26,133.74 523.68,134.36 524.09,136.24 524.51,133.66 524.92,132.59 525.34,129.89 525.76,130.53 526.17,130.90 526.59,131.95 527.01,131.01 527.42,128.83 527.84,135.29 528.25,134.16 528.67,136.24 529.09,128.37 529.50,129.27 529.92,131.28 530.34,136.04 530.75,132.27 531.17,133.69 531.58,132.70 532.00,133.98 532.42,131.47 532.83,134.22 533.25,130.60 533.66,132.85 534.08,133.76 534.50,133.50 534.91,134.19 535.33,131.25 535.75,130.28 536.16,132.01 536.58,134.54 536.99,136.82 537.41,130.25 537.83,136.45 538.24,131.37 538.66,131.98 539.08,137.67 539.49,136.43 539.91,134.69 540.32,135.55 540.74,136.61 541.16,131.43 541.57,134.52 541.99,131.86 542.40,135.20 542.82,133.27 543.24,135.61 543.65,134.06 544.07,131.82 544.49,133.77 544.90,135.30 545.32,136.71 545.73,131.67 546.15,132.99 546.57,135.01 546.98,136.07 547.40,132.36 547.82,127.57 548.23,135.15 548.65,133.08 549.06,128.78 549.48,138.56 549.90,134.04 550.31,136.39 550.73,130.55 551.14,135.04 551.56,136.26 551.98,134.87 552.39,134.02 552.81,132.57 553.23,134.47 553.64,137.57 554.06,134.97 554.47,132.62 554.89,129.51 555.31,132.55 555.72,134.18 556.14,131.97 556.56,131.76 556.97,130.41 557.39,131.93 557.80,135.45 558.22,134.44 558.64,134.64 559.05,134.16 559.47,134.31 559.89,137.58 560.30,138.93 560.72,137.10 561.13,139.38 561.55,134.74 561.97,135.10 562.38,139.56 562.80,132.87 563.21,132.99 563.63,134.88 564.05,130.63 564.46,129.83 564.88,138.66 565.30,132.25 565.71,134.27 566.13,133.96 566.54,132.98 566.96,137.44 567.38,136.63 567.79,137.63 568.21,137.51 568.63,135.27 569.04,139.41 569.46,138.58 569.87,133.81 570.29,136.03 570.71,134.31 571.12,136.88 571.54,137.92 571.95,137.33 572.37,135.56 572.79,137.32 573.20,133.38 573.62,135.79 574.04,136.17 574.45,135.86 574.87,133.96 575.28,137.20 575.70,132.70 576.12,134.88 576.53,135.35 576.95,135.85 577.37,134.65 577.78,133.46 578.20,133.63 578.61,134.89 579.03,133.81 579.45,135.71 579.86,132.38 580.28,135.94 580.70,139.96 581.11,132.49 581.53,136.08 581.94,139.19 582.36,136.67 582.78,138.41 583.19,130.41 583.61,134.61 584.02,140.29 584.44,134.62 584.86,134.12 585.27,130.92 585.69,139.22 586.11,140.53 586.52,135.99 586.94,137.48 587.35,137.16 587.77,140.68 588.19,135.06 588.60,131.84 589.02,140.77 589.44,132.81 589.85,138.18 590.27,130.28 590.68,135.51 591.10,132.04 591.52,133.06 591.93,135.11 592.35,138.09 592.76,134.89 593.18,138.03 593.60,140.79 594.01,130.64 594.43,137.86 594.85,138.32 595.26,135.75 595.68,141.25 596.09,140.52 596.51,138.27 596.93,138.79 597.34,136.52 597.76,133.60 598.18,138.31 598.59,135.80 599.01,134.91 599.42,139.92 599.84,136.09 600.26,139.31 600.67,134.10 601.09,135.54 601.51,137.00 601.92,140.81 602.34,136.74 602.75,139.22 603.17,134.85 603.59,137.40 604.00,139.43 604.42,134.58 604.83,135.03 605.25,139.02 605.67,134.00 606.08,138.04 606.50,138.20 606.92,136.90 607.33,139.49 607.75,138.07 608.16,137.43 608.58,132.86 609.00,133.07 609.41,137.57 609.83,131.73 610.25,137.00 610.66,136.21 611.08,134.80 611.49,136.25 611.91,130.56 612.33,136.27 612.74,141.01 613.16,133.59 613.58,138.84 613.99,137.94 614.41,141.89 614.82,134.67 615.24,134.99 615.66,134.98 616.07,133.96 616.49,132.82 616.90,138.00 617.32,134.88 617.74,139.73 618.15,138.69 618.57,134.76 618.99,136.60 619.40,141.61 619.82,136.52 620.23,137.87 620.65,140.44 621.07,136.48 621.48,138.96 621.90,141.99 622.32,141.12 622.73,132.73 623.15,142.32 623.56,136.99" fill="none" stroke="#4a0d5c" stroke-width="1.25" stroke-linejoin="round" stroke-linecap="butt"/>
</g>
<clipPath id="c01"><rect x="33.2" y="161.6" width="296.75" height="147.4"/></clipPath>
<g clip-path="url(#c01)">
<polyline points="46.50,245.01 46.92,228.69 47.33,217.11 47.75,210.29 48.16,206.80 48.58,204.09 49.00,202.82 49.41,201.40 49.83,200.53 50.25,199.65 50.66,199.15 51.08,198.31 51.49,198.05 51.91,197.55 52.33,197.39 52.74,197.06 53.16,196.52 53.58,196.57 53.99,196.44 54.41,195.88 54.82,195.87 55.24,195.55 55.66,195.13 56.07,195.16 56.49,194.70 56.91,194.71 57.32,194.20 57.74,194.02 58.15,194.08 58.57,193.86 58.99,193.77 59.40,193.46 59.82,193.16 60.23,193.38 60.65,192.91 61.07,193.09 61.48,192.91 61.90,192.93 62.32,192.27 62.73,192.46 63.15,192.34 63.56,192.38 63.98,192.05 64.40,192.42 64.81,192.05 65.23,191.66 65.65,191.96 66.06,191.84 66.48,191.68 66.89,191.82 67.31,191.64 67.73,191.45 68.14,191.50 68.56,191.42 68.97,191.46 69.39,191.31 69.81,191.29 70.22,191.04 70.64,191.09 71.06,191.17 71.47,191.44 71.89,190.93 72.30,190.87 72.72,191.06 73.14,191.16 73.55,190.99 73.97,190.64 74.39,190.87 74.80,190.74 75.22,190.59 75.63,190.39 76.05,190.52 76.47,190.48 76.88,190.49 77.30,190.13 77.72,190.17 78.13,190.28 78.55,190.42 78.96,190.29 79.38,190.04 79.80,190.18 80.21,189.91 80.63,189.94 81.04,189.90 81.46,189.81 81.88,189.78 82.29,189.93 82.71,189.82 83.13,189.39 83.54,189.86 83.96,189.71 84.37,189.45 84.79,189.59 85.21,189.64 85.62,189.68 86.04,189.38 86.46,189.27 86.87,189.18 87.29,189.34 87.70,189.16 88.12,189.42 88.54,189.22 88.95,189.30 89.37,189.15 89.78,189.04 90.20,188.96 90.62,189.22 91.03,188.87 91.45,189.09 91.87,189.14 92.28,188.99 92.70,189.15 93.11,188.91 93.53,188.85 93.95,188.89 94.36,188.76 94.78,188.85 95.20,188.78 95.61,188.97 96.03,188.73 96.44,188.84 96.86,188.76 97.28,188.68 97.69,188.62 98.11,188.86 98.53,188.82 98.94,188.62 99.36,188.49 99.77,188.49 100.19,188.39 100.61,188.31 101.02,188.41 101.44,188.46 101.85,188.58 102.27,188.55 102.69,188.46 103.10,188.34 103.52,188.33 103.94,188.34 104.35,188.34 104.77,188.21 105.18,188.25 105.60,188.22 106.02,188.20 106.43,188.31 106.85,188.36 107.27,188.12 107.68,188.11 108.10,188.19 108.51,188.20 108.93,187.79 109.35,188.21 109.76,188.11 110.18,188.03 110.59,188.21 111.01,188.01 111.43,187.76 111.84,187.86 112.26,187.89 112.68,187.88 113.09,187.93 113.51,187.79 113.92,187.93 114.34,187.95 114.76,187.86 115.17,187.73 115.59,187.79 116.01,187.73 116.42,188.09 116.84,187.62 117.25,187.44 117.67,187.56 118.09,187.78 118.50,187.84 118.92,187.66 119.34,187.82 119.75,187.56 120.17,187.72 120.58,187.49 121.00,187.42 121.42,187.88 121.83,187.53 122.25,187.66 122.66,187.74 123.08,187.61 123.50,187.54 123.91,187.34 124.33,187.69 124.75,187.30 125.16,187.15 125.58,187.33 125.99,187.32 126.41,187.38 126.83,187.53 127.24,187.27 127.66,187.27 128.08,187.20 128.49,186.92 128.91,187.17 129.32,187.19 129.74,187.01 130.16,187.41 130.57,187.36 130.99,187.23 131.40,187.25 131.82,187.04 132.24,187.16 132.65,186.85 133.07,186.86 133.49,186.95 133.90,187.09 134.32,186.93 134.73,186.88 135.15,187.13 135.57,186.91 135.98,186.84 136.40,186.89 136.82,186.67 137.23,186.70 137.65,186.97 138.06,186.81 138.48,186.93 138.90,186.71 139.31,186.89 139.73,186.61 140.15,186.67 140.56,186.56 140.98,186.70 141.39,186.87 141.81,186.39 142.23,186.64 142.64,186.40 143.06,186.51 143.47,186.46 143.89,186.27 144.31,186.46 144.72,186.29 145.14,186.68 145.56,186.32 145.97,186.46 146.39,186.42 146.80,186.38 147.22,186.31 147.64,186.10 148.05,186.58 148.47,186.29 148.89,186.37 149.30,186.08 149.72,186.29 150.13,186.14 150.55,186.24 150.97,186.07 151.38,186.00 151.80,186.18 152.21,186.10 152.63,186.28 153.05,186.02 153.46,185.92 153.88,186.10 154.30,185.84 154.71,186.28 155.13,186.22 155.54,186.14 155.96,185.99 156.38,185.90 156.79,185.89 157.21,185.87 157.63,185.74 158.04,185.89 158.46,185.98 158.87,185.96 159.29,185.46 159.71,186.08 160.12,185.75 160.54,185.50 160.95,185.62 161.37,185.79 161.79,185.65 162.20,185.51 162.62,185.45 163.04,185.73 163.45,185.47 163.87,185.53 164.28,185.39 164.70,185.33 165.12,185.56 165.53,185.70 165.95,185.42 166.37,185.21 166.78,185.35 167.20,185.40 167.61,185.07 168.03,185.54 168.45,185.25 168.86,185.45 169.28,185.34 169.70,185.32 170.11,185.10 170.53,185.44 170.94,185.36 171.36,185.50 171.78,185.19 172.19,185.31 172.61,185.17 173.02,185.36 173.44,185.25 173.86,185.03 174.27,185.19 174.69,185.06 175.11,185.06 175.52,185.17 175.94,185.33 176.35,184.95 176.77,185.05 177.19,184.92 177.60,185.34 178.02,185.27 178.44,185.33 178.85,185.13 179.27,184.85 179.68,184.90 180.10,184.97 180.52,184.93 180.93,184.83 181.35,184.97 181.77,184.85 182.18,184.88 182.60,185.19 183.01,184.92 183.43,184.66 183.85,184.90 184.26,184.85 184.68,184.90 185.09,184.87 185.51,184.63 185.93,184.81 186.34,184.91 186.76,185.19 187.18,184.82 187.59,185.00 188.01,184.97 188.42,184.58 188.84,184.58 189.26,184.94 189.67,184.54 190.09,184.58 190.51,184.74 190.92,184.52 191.34,184.84 191.75,184.77 192.17,184.79 192.59,184.73 193.00,184.43 193.42,184.74 193.83,184.70 194.25,184.66 194.67,184.48 195.08,184.55 195.50,184.36 195.92,184.58 196.33,184.65 196.75,184.52 197.16,184.43 197.58,184.56 198.00,184.38 198.41,184.15 198.83,184.48 199.25,184.38 199.66,184.18 200.08,184.45 200.49,184.47 200.91,184.49 201.33,184.27 201.74,184.24 202.16,184.33 202.58,184.29 202.99,184.10 203.41,184.15 203.82,184.46 204.24,184.25 204.66,184.23 205.07,184.13 205.49,184.25 205.90,184.30 206.32,184.27 206.74,184.44 207.15,184.18 207.57,184.25 207.99,184.09 208.40,184.30 208.82,184.20 209.23,184.27 209.65,184.27 210.07,184.01 210.48,184.17 210.90,184.03 211.32,184.24 211.73,184.06 212.15,184.30 212.56,184.12 212.98,184.11 213.40,183.95 213.81,184.00 214.23,184.04 214.64,183.88 215.06,183.97 215.48,183.91 215.89,183.87 216.31,183.98 216.73,184.00 217.14,183.90 217.56,184.00 217.97,183.87 218.39,183.76 218.81,183.79 219.22,183.96 219.64,184.08 220.06,183.89 220.47,183.89 220.89,183.71 221.30,183.91 221.72,183.88 222.14,183.74 222.55,183.90 222.97,183.84 223.39,183.57 223.80,183.59 224.22,183.71 224.63,183.75 225.05,183.92 225.47,183.69 225.88,183.75 226.30,183.72 226.71,183.82 227.13,183.74 227.55,183.75 227.96,183.67 228.38,183.51 228.80,183.65 229.21,183.93 229.63,183.82 230.04,183.90 230.46,183.78 230.88,183.58 231.29,183.60 231.71,183.73 232.13,183.60 232.54,183.74 232.96,183.82 233.37,183.81 233.79,183.73 234.21,183.40 234.62,183.78 235.04,183.41 235.45,183.39 235.87,183.60 236.29,183.57 236.70,183.64 237.12,183.55 237.54,183.45 237.95,183.53 238.37,183.38 238.78,183.35 239.20,183.46 239.62,183.46 240.03,183.51 240.45,183.44 240.87,183.64 241.28,183.42 241.70,183.44 242.11,183.58 242.53,183.15 242.95,183.59 243.36,183.56 243.78,183.39 244.19,183.70 244.61,183.53 245.03,183.63 245.44,183.54 245.86,183.42 246.28,183.35 246.69,183.23 247.11,183.27 247.52,183.21 247.94,183.29 248.36,183.43 248.77,183.20 249.19,183.42 249.61,183.43 250.02,183.12 250.44,183.22 250.85,183.29 251.27,183.21 251.69,183.19 252.10,183.50 252.52,183.32 252.94,183.46 253.35,183.27 253.77,183.38 254.18,183.09 254.60,183.20 255.02,183.38 255.43,183.26 255.85,183.43 256.26,183.24 256.68,183.17 257.10,183.20 257.51,183.51 257.93,183.27 258.35,183.15 258.76,183.17 259.18,183.04 259.59,183.39 260.01,183.12 260.43,183.29 260.84,183.16 261.26,183.12 261.68,183.08 262.09,183.25 262.51,183.14 262.92,183.33 263.34,183.36 263.76,183.07 264.17,183.15 264.59,183.37 265.00,183.25 265.42,183.13 265.84,182.90 266.25,182.97 266.67,183.00 267.09,183.36 267.50,183.12 267.92,183.03 268.33,183.04 268.75,183.03 269.17,183.11 269.58,182.83 270.00,182.86 270.42,183.08 270.83,183.20 271.25,182.76 271.66,183.13 272.08,182.88 272.50,182.77 272.91,183.17 273.33,182.99 273.75,183.08 274.16,182.95 274.58,182.97 274.99,182.73 275.41,182.92 275.83,183.00 276.24,182.84 276.66,183.03 277.07,183.04 277.49,182.66 277.91,183.10 278.32,183.04 278.74,182.96 279.16,183.11 279.57,183.26 279.99,182.80 280.40,183.06 280.82,183.02 281.24,182.99 281.65,183.08 282.07,183.09 282.49,182.90 282.90,182.58 283.32,182.81 283.73,182.81 284.15,183.12 284.57,182.91 284.98,183.07 285.40,182.79 285.81,182.92 286.23,182.88 286.65,182.90 287.06,182.96 287.48,183.09 287.90,182.79 288.31,183.06 288.73,183.03 289.14,182.90 289.56,182.95 289.98,182.81 290.39,182.70 290.81,182.81 291.23,182.81 291.64,182.83 292.06,182.71 292.47,183.09 292.89,182.77 293.31,182.95 293.72,182.99 294.14,182.81 294.56,182.86 294.97,182.72 295.39,182.64 295.80,183.12 296.22,182.80 296.64,182.51 297.05,182.66 297.47,182.57 297.88,182.76 298.30,182.98 298.72,182.93 299.13,182.66 299.55,182.62 299.97,182.86 300.38,182.79 300.80,182.71 301.21,182.99 301.63,182.79 302.05,182.51 302.46,182.42 302.88,182.75 303.30,182.47 303.71,182.80 304.13,182.83 304.54,183.03 304.96,182.58 305.38,182.76 305.79,182.37 306.21,182.65 306.62,182.67 307.04,182.95 307.46,182.48 307.87,182.74 308.29,182.71 308.71,183.00 309.12,182.55 309.54,182.53 309.95,182.76 310.37,182.65 310.79,182.61 311.20,182.52 311.62,182.64 312.04,182.41 312.45,182.69 312.87,182.73 313.28,182.71 313.70,183.00 314.12,182.75 314.53,182.49 314.95,182.60 315.37,182.75 315.78,182.58 316.20,182.91 316.61,182.66" fill="none" stroke="#0f4f2c" stroke-width="1.25" stroke-linejoin="round" stroke-linecap="butt"/>
<polyline points="46.50,233.00 46.92,221.19 47.33,214.10 47.75,207.91 48.16,203.65 48.58,201.54 49.00,199.59 49.41,199.03 49.83,198.40 50.25,195.58 50.66,195.90 51.08,196.26 51.49,195.67 51.91,194.92 52.33,192.44 52.74,191.13 53.16,193.39 53.58,195.30 53.99,193.08 54.41,192.73 54.82,190.80 55.24,192.02 55.66,190.80 56.07,192.83 56.49,190.63 56.91,192.65 57.32,191.99 57.74,191.74 58.15,189.50 58.57,191.04 58.99,189.71 59.40,188.41 59.82,191.40 60.23,190.02 60.65,190.53 61.07,192.17 61.48,190.30 61.90,190.86 62.32,189.93 62.73,188.93 63.15,190.11 63.56,189.93 63.98,190.71 64.40,191.14 64.81,190.41 65.23,190.17 65.65,190.22 66.06,189.37 66.48,191.44 66.89,190.57 67.31,191.00 67.73,188.87 68.14,190.11 68.56,190.05 68.97,190.41 69.39,189.05 69.81,189.90 70.22,189.45 70.64,190.93 71.06,188.77 71.47,189.27 71.89,189.14 72.30,188.66 72.72,189.58 73.14,189.54 73.55,188.93 73.97,189.10 74.39,189.52 74.80,189.31 75.22,189.65 75.63,188.82 76.05,188.65 76.47,189.25 76.88,187.98 77.30,190.23 77.72,189.35 78.13,188.03 78.55,189.43 78.96,190.20 79.38,188.19 79.80,188.73 80.21,189.87 80.63,188.55 81.04,189.72 81.46,189.92 81.88,189.11 82.29,189.31 82.71,189.71 83.13,189.20 83.54,189.61 83.96,188.88 84.37,188.92 84.79,188.39 85.21,189.18 85.62,189.74 86.04,189.72 86.46,188.99 86.87,187.78 87.29,188.22 87.70,189.20 88.12,188.13 88.54,189.51 88.95,188.05 89.37,188.96 89.78,188.18 90.20,188.26 90.62,188.84 91.03,188.42 91.45,189.33 91.87,188.65 92.28,187.86 92.70,185.83 93.11,188.07 93.53,188.46 93.95,189.18 94.36,187.78 94.78,189.56 95.20,188.98 95.61,188.18 96.03,189.20 96.44,187.35 96.86,187.63 97.28,188.72 97.69,188.69 98.11,189.18 98.53,189.21 98.94,187.96 99.36,187.82 99.77,187.98 100.19,188.02 100.61,188.55 101.02,187.91 101.44,189.11 101.85,188.11 102.27,187.11 102.69,187.19 103.10,188.36 103.52,188.25 103.94,187.09 104.35,186.80 104.77,188.97 105.18,188.24 105.60,187.78 106.02,187.10 106.43,188.46 106.85,187.45 107.27,188.06 107.68,186.26 108.10,187.54 108.51,187.90 108.93,188.01 109.35,187.07 109.76,187.30 110.18,188.46 110.59,187.57 111.01,188.60 111.43,188.19 111.84,188.53 112.26,188.54 112.68,188.10 113.09,188.28 113.51,187.26 113.92,187.06 114.34,187.74 114.76,188.31 115.17,187.01 115.59,188.88 116.01,188.81 116.42,187.02 116.84,187.06 117.25,186.83 117.67,187.61 118.09,188.30 118.50,187.78 118.92,187.05 119.34,187.93 119.75,187.88 120.17,188.33 120.58,188.16 121.00,186.81 121.42,187.06 121.83,188.13 122.25,188.06 122.66,187.71 123.08,186.96 123.50,188.09 123.91,187.42 124.33,188.73 124.75,188.13 125.16,187.00 125.58,186.67 125.99,188.03 126.41,187.77 126.83,186.72 127.24,187.50 127.66,187.59 128.08,186.88 128.49,187.09 128.91,186.47 129.32,186.68 129.74,187.59 130.16,187.28 130.57,187.23 130.99,188.09 131.40,187.83 131.82,186.53 132.24,188.23 132.65,186.50 133.07,186.97 133.49,187.25 133.90,186.79 134.32,186.83 134.73,186.33 135.15,187.40 135.57,187.28 135.98,187.29 136.40,185.86 136.82,186.48 137.23,187.73 137.65,187.33 138.06,187.57 138.48,187.09 138.90,186.95 139.31,185.56 139.73,188.30 140.15,186.39 140.56,186.78 140.98,187.54 141.39,187.16 141.81,187.39 142.23,187.02 142.64,186.38 143.06,188.06 143.47,186.17 143.89,187.29 144.31,186.03 144.72,186.76 145.14,186.20 145.56,186.64 145.97,186.29 146.39,186.98 146.80,187.56 147.22,186.56 147.64,186.53 148.05,185.60 148.47,188.33 148.89,187.12 149.30,186.28 149.72,187.82 150.13,187.13 150.55,185.57 150.97,186.03 151.38,187.56 151.80,186.02 152.21,186.18 152.63,186.45 153.05,186.71 153.46,186.80 153.88,187.53 154.30,187.30 154.71,186.46 155.13,186.85 155.54,185.71 155.96,187.16 156.38,188.54 156.79,187.16 157.21,186.75 157.63,186.68 158.04,186.89 158.46,187.48 158.87,185.93 159.29,187.37 159.71,186.45 160.12,187.11 160.54,187.72 160.95,185.98 161.37,188.59 161.79,187.48 162.20,186.62 162.62,187.15 163.04,186.41 163.45,186.97 163.87,187.21 164.28,185.47 164.70,187.05 165.12,187.01 165.53,187.62 165.95,187.40 166.37,186.47 166.78,186.53 167.20,186.90 167.61,187.36 168.03,186.44 168.45,188.03 168.86,187.12 169.28,187.06 169.70,187.46 170.11,186.79 170.53,187.34 170.94,187.43 171.36,185.70 171.78,186.40 172.19,186.10 172.61,186.86 173.02,186.25 173.44,186.37 173.86,186.09 174.27,185.32 174.69,187.04 175.11,186.72 175.52,186.93 175.94,189.23 176.35,187.82 176.77,186.88 177.19,186.47 177.60,187.28 178.02,186.14 178.44,186.04 178.85,187.17 179.27,185.95 179.68,185.73 180.10,186.59 180.52,187.55 180.93,185.92 181.35,187.01 181.77,187.15 182.18,186.82 182.60,187.25 183.01,186.19 183.43,186.38 183.85,186.09 184.26,186.51 184.68,187.43 185.09,187.01 185.51,186.32 185.93,187.17 186.34,184.96 186.76,187.07 187.18,187.30 187.59,186.14 188.01,186.41 188.42,186.93 188.84,187.06 189.26,186.63 189.67,186.36 190.09,186.41 190.51,187.11 190.92,186.63 191.34,186.36 191.75,186.41 192.17,188.97 192.59,187.51 193.00,187.44 193.42,187.07 193.83,186.80 194.25,186.31 194.67,186.51 195.08,187.01 195.50,186.91 195.92,185.76 196.33,187.34 196.75,186.73 197.16,185.89 197.58,186.70 198.00,188.29 198.41,186.69 198.83,187.19 199.25,187.01 199.66,186.24 200.08,186.63 200.49,187.12 200.91,186.35 201.33,186.65 201.74,186.87 202.16,186.75 202.58,186.78 202.99,187.17 203.41,187.25 203.82,186.93 204.24,187.59 204.66,187.79 205.07,186.09 205.49,187.11 205.90,186.97 206.32,187.05 206.74,186.94 207.15,186.95 207.57,186.92 207.99,187.50 208.40,186.35 208.82,187.43 209.23,186.28 209.65,188.24 210.07,187.67 210.48,186.31 210.90,187.07 211.32,187.42 211.73,186.73 212.15,187.67 212.56,186.93 212.98,188.45 213.40,187.28 213.81,187.41 214.23,186.62 214.64,186.40 215.06,187.55 215.48,185.92 215.89,187.38 216.31,188.36 216.73,188.57 217.14,185.97 217.56,187.06 217.97,187.43 218.39,187.50 218.81,187.73 219.22,186.11 219.64,187.06 220.06,185.82 220.47,187.15 220.89,188.58 221.30,186.46 221.72,187.27 222.14,187.18 222.55,185.99 222.97,187.21 223.39,186.26 223.80,187.04 224.22,187.54 224.63,186.70 225.05,187.44 225.47,186.23 225.88,186.41 226.30,187.01 226.71,186.65 227.13,186.68 227.55,187.25 227.96,186.47 228.38,187.22 228.80,186.66 229.21,187.71 229.63,187.01 230.04,186.80 230.46,187.61 230.88,187.36 231.29,187.44 231.71,186.61 232.13,187.57 232.54,186.80 232.96,186.08 233.37,186.86 233.79,188.17 234.21,187.02 234.62,186.42 235.04,187.30 235.45,186.38 235.87,186.70 236.29,186.84 236.70,187.29 237.12,187.46 237.54,187.29 237.95,187.08 238.37,186.78 238.78,186.85 239.20,187.33 239.62,187.09 240.03,186.88 240.45,188.22 240.87,187.65 241.28,187.67 241.70,187.28 242.11,187.33 242.53,187.31 242.95,187.72 243.36,186.70 243.78,186.96 244.19,188.24 244.61,187.14 245.03,187.90 245.44,186.02 245.86,187.46 246.28,187.41 246.69,187.10 247.11,187.29 247.52,187.19 247.94,186.13 248.36,187.01 248.77,186.60 249.19,186.41 249.61,187.80 250.02,186.03 250.44,186.70 250.85,186.52 251.27,187.73 251.69,186.61 252.10,186.88 252.52,187.51 252.94,185.64 253.35,186.78 253.77,187.31 254.18,187.03 254.60,186.55 255.02,186.40 255.43,186.77 255.85,186.34 256.26,186.18 256.68,187.97 257.10,187.47 257.51,187.77 257.93,187.08 258.35,186.19 258.76,186.71 259.18,187.84 259.59,187.34 260.01,186.46 260.43,187.50 260.84,187.21 261.26,186.94 261.68,188.35 262.09,186.62 262.51,186.91 262.92,186.76 263.34,187.79 263.76,187.65 264.17,187.53 264.59,186.97 265.00,187.09 265.42,187.05 265.84,185.94 266.25,186.26 266.67,187.61 267.09,187.56 267.50,185.99 267.92,187.34 268.33,186.21 268.75,186.06 269.17,187.48 269.58,187.30 270.00,187.07 270.42,187.69 270.83,187.77 271.25,187.38 271.66,186.55 272.08,187.41 272.50,187.25 272.91,187.42 273.33,188.01 273.75,186.12 274.16,188.66 274.58,187.54 274.99,186.73 275.41,188.03 275.83,186.70 276.24,186.26 276.66,187.67 277.07,186.95 277.49,187.83 277.91,186.75 278.32,187.03 278.74,186.94 279.16,186.18 279.57,186.77 279.99,186.19 280.40,186.66 280.82,187.87 281.24,186.90 281.65,186.75 282.07,188.03 282.49,186.18 282.90,187.02 283.32,186.82 283.73,187.66 284.15,187.01 284.57,186.86 284.98,187.27 285.40,187.00 285.81,188.46 286.23,186.14 286.65,187.78 287.06,188.49 287.48,187.68 287.90,187.59 288.31,186.67 288.73,187.64 289.14,186.84 289.56,187.67 289.98,185.56 290.39,186.66 290.81,185.72 291.23,187.69 291.64,186.57 292.06,187.65 292.47,186.63 292.89,186.56 293.31,188.06 293.72,187.76 294.14,187.77 294.56,188.00 294.97,187.48 295.39,187.63 295.80,187.95 296.22,186.92 296.64,186.62 297.05,187.85 297.47,187.35 297.88,186.97 298.30,187.13 298.72,187.44 299.13,186.43 299.55,186.40 299.97,186.51 300.38,187.10 300.80,185.64 301.21,185.80 301.63,187.22 302.05,187.03 302.46,186.16 302.88,187.47 303.30,186.67 303.71,186.90 304.13,187.40 304.54,187.08 304.96,187.97 305.38,187.28 305.79,188.25 306.21,185.40 306.62,185.91 307.04,186.09 307.46,186.71 307.87,186.24 308.29,186.06 308.71,186.22 309.12,186.28 309.54,187.50 309.95,186.60 310.37,187.24 310.79,187.67 311.20,187.64 311.62,186.59 312.04,186.17 312.45,187.78 312.87,185.71 313.28,185.89 313.70,187.11 314.12,187.16 314.53,186.90 314.95,186.20 315.37,187.10 315.78,187.58 316.20,186.61 316.61,188.21" fill="none" stroke="#4a0d5c" stroke-width="1.25" stroke-linejoin="round" stroke-linecap="butt"/>
</g>
<clipPath id="c11"><rect x="340.0" y="161.6" width="296.45000000000005" height="147.4"/></clipPath>
<g clip-path="url(#c11)">
<polyline points="353.45,268.96 353.87,259.42 354.28,255.90 354.70,251.84 355.11,250.30 355.53,248.78 355.95,248.16 356.36,247.33 356.78,246.53 357.20,246.62 357.61,245.79 358.03,245.39 358.44,245.28 358.86,244.37 359.28,244.07 359.69,243.78 360.11,243.46 360.53,242.38 360.94,242.75 361.36,242.75 361.77,242.35 362.19,241.99 362.61,241.72 363.02,241.32 363.44,241.08 363.86,240.29 364.27,239.94 364.69,239.54 365.10,238.85 365.52,238.14 365.94,237.21 366.35,236.54 366.77,235.95 367.18,235.14 367.60,234.31 368.02,233.11 368.43,232.80 368.85,231.88 369.27,231.27 369.68,231.10 370.10,230.45 370.51,230.05 370.93,229.81 371.35,229.26 371.76,228.85 372.18,228.52 372.60,228.47 373.01,228.11 373.43,227.42 373.84,227.81 374.26,227.31 374.68,226.94 375.09,226.86 375.51,226.56 375.92,226.46 376.34,226.17 376.76,225.90 377.17,226.02 377.59,225.79 378.01,225.69 378.42,225.62 378.84,225.41 379.25,225.49 379.67,225.01 380.09,224.71 380.50,224.60 380.92,224.57 381.34,224.88 381.75,224.30 382.17,224.62 382.58,224.39 383.00,223.93 383.42,224.39 383.83,223.93 384.25,223.94 384.66,223.92 385.08,223.97 385.50,223.62 385.91,223.70 386.33,223.32 386.75,223.19 387.16,223.60 387.58,223.34 387.99,223.22 388.41,223.30 388.83,223.20 389.24,222.89 389.66,222.87 390.08,223.06 390.49,222.77 390.91,222.49 391.32,222.74 391.74,222.61 392.16,222.06 392.57,222.04 392.99,222.52 393.41,222.40 393.82,222.00 394.24,222.22 394.65,221.97 395.07,221.94 395.49,221.68 395.90,222.20 396.32,222.07 396.73,221.82 397.15,221.33 397.57,221.48 397.98,221.71 398.40,221.23 398.82,221.13 399.23,221.25 399.65,221.20 400.06,221.00 400.48,220.79 400.90,220.93 401.31,220.79 401.73,220.84 402.15,220.84 402.56,220.88 402.98,220.60 403.39,220.64 403.81,220.57 404.23,220.29 404.64,220.31 405.06,220.17 405.47,220.57 405.89,220.10 406.31,220.25 406.72,220.23 407.14,220.17 407.56,219.72 407.97,219.72 408.39,219.95 408.80,219.97 409.22,219.69 409.64,219.72 410.05,219.26 410.47,219.79 410.89,219.81 411.30,219.45 411.72,219.34 412.13,219.27 412.55,219.09 412.97,218.79 413.38,219.19 413.80,219.18 414.22,219.36 414.63,218.92 415.05,218.76 415.46,218.92 415.88,218.59 416.30,218.76 416.71,218.43 417.13,218.60 417.54,218.82 417.96,218.69 418.38,218.81 418.79,218.80 419.21,218.37 419.63,218.21 420.04,217.96 420.46,218.29 420.87,218.28 421.29,218.40 421.71,217.96 422.12,218.03 422.54,218.17 422.96,217.88 423.37,217.86 423.79,218.28 424.20,217.74 424.62,217.81 425.04,217.87 425.45,217.83 425.87,217.38 426.28,217.38 426.70,217.28 427.12,217.80 427.53,217.67 427.95,217.33 428.37,217.69 428.78,217.56 429.20,217.72 429.61,216.99 430.03,217.10 430.45,217.18 430.86,217.18 431.28,217.26 431.70,217.22 432.11,216.99 432.53,217.21 432.94,216.80 433.36,217.09 433.78,217.12 434.19,216.67 434.61,216.91 435.03,216.74 435.44,216.89 435.86,217.20 436.27,216.63 436.69,216.96 437.11,216.46 437.52,216.93 437.94,216.95 438.35,216.50 438.77,216.45 439.19,216.47 439.60,216.69 440.02,216.26 440.44,216.67 440.85,216.45 441.27,216.47 441.68,216.36 442.10,216.10 442.52,216.34 442.93,216.08 443.35,216.03 443.77,216.45 444.18,216.32 444.60,216.14 445.01,216.14 445.43,215.94 445.85,216.34 446.26,215.80 446.68,215.76 447.10,215.91 447.51,216.11 447.93,215.81 448.34,215.89 448.76,215.65 449.18,215.74 449.59,215.56 450.01,215.75 450.42,215.36 450.84,216.04 451.26,215.77 451.67,215.45 452.09,215.81 452.51,215.35 452.92,215.69 453.34,215.41 453.75,215.58 454.17,215.46 454.59,215.32 455.00,215.34 455.42,215.37 455.84,214.86 456.25,215.24 456.67,215.39 457.08,215.01 457.50,215.00 457.92,214.90 458.33,214.76 458.75,215.25 459.16,214.85 459.58,214.81 460.00,215.00 460.41,214.92 460.83,215.51 461.25,215.03 461.66,214.55 462.08,215.20 462.49,214.94 462.91,214.76 463.33,214.68 463.74,214.45 464.16,215.07 464.58,214.70 464.99,214.52 465.41,214.91 465.82,214.64 466.24,214.25 466.66,214.33 467.07,214.45 467.49,215.03 467.90,214.53 468.32,214.41 468.74,214.51 469.15,214.44 469.57,213.82 469.99,214.42 470.40,214.54 470.82,214.29 471.23,214.37 471.65,214.34 472.07,214.28 472.48,214.09 472.90,214.17 473.32,214.41 473.73,214.19 474.15,214.05 474.56,214.20 474.98,213.87 475.40,213.92 475.81,214.23 476.23,213.96 476.65,213.62 477.06,213.68 477.48,213.96 477.89,213.76 478.31,214.04 478.73,214.16 479.14,213.76 479.56,213.79 479.97,213.72 480.39,213.80 480.81,213.71 481.22,213.85 481.64,213.64 482.06,213.55 482.47,213.70 482.89,213.51 483.30,213.98 483.72,213.77 484.14,213.33 484.55,213.24 484.97,213.51 485.39,213.56 485.80,213.76 486.22,213.42 486.63,213.33 487.05,213.73 487.47,213.33 487.88,213.32 488.30,213.31 488.72,213.58 489.13,213.25 489.55,213.61 489.96,213.03 490.38,213.26 490.80,213.49 491.21,213.00 491.63,213.01 492.04,213.34 492.46,212.77 492.88,213.36 493.29,213.09 493.71,212.91 494.13,213.55 494.54,212.91 494.96,213.09 495.37,213.06 495.79,213.25 496.21,212.96 496.62,213.21 497.04,213.17 497.46,213.05 497.87,213.18 498.29,212.63 498.70,213.17 499.12,213.04 499.54,212.94 499.95,212.86 500.37,212.69 500.78,212.67 501.20,212.87 501.62,212.86 502.03,212.77 502.45,212.60 502.87,212.61 503.28,212.82 503.70,213.10 504.11,212.28 504.53,212.49 504.95,212.61 505.36,212.58 505.78,212.72 506.20,212.80 506.61,212.65 507.03,212.62 507.44,212.68 507.86,212.82 508.28,212.59 508.69,212.40 509.11,212.59 509.52,212.48 509.94,212.86 510.36,212.49 510.77,212.46 511.19,212.65 511.61,212.73 512.02,212.31 512.44,212.53 512.85,212.27 513.27,212.43 513.69,212.21 514.10,212.38 514.52,212.59 514.94,212.31 515.35,212.34 515.77,212.14 516.18,212.33 516.60,212.31 517.02,212.06 517.43,211.99 517.85,212.05 518.27,211.98 518.68,212.08 519.10,212.01 519.51,211.97 519.93,212.05 520.35,212.10 520.76,212.07 521.18,211.63 521.59,212.07 522.01,212.11 522.43,212.12 522.84,212.04 523.26,211.98 523.68,212.23 524.09,212.38 524.51,211.93 524.92,212.28 525.34,211.92 525.76,211.93 526.17,211.72 526.59,211.61 527.01,211.85 527.42,212.01 527.84,212.12 528.25,212.04 528.67,211.87 529.09,212.26 529.50,211.84 529.92,211.84 530.34,211.71 530.75,211.88 531.17,211.79 531.58,211.94 532.00,211.88 532.42,212.11 532.83,211.74 533.25,211.46 533.66,211.72 534.08,211.67 534.50,211.91 534.91,211.45 535.33,211.85 535.75,211.54 536.16,211.67 536.58,211.86 536.99,211.47 537.41,211.65 537.83,211.61 538.24,211.55 538.66,211.63 539.08,211.69 539.49,211.52 539.91,211.68 540.32,211.58 540.74,211.71 541.16,211.85 541.57,211.69 541.99,211.65 542.40,211.54 542.82,211.31 543.24,211.84 543.65,211.49 544.07,211.92 544.49,211.69 544.90,211.58 545.32,211.91 545.73,211.82 546.15,211.43 546.57,211.44 546.98,211.46 547.40,211.58 547.82,211.01 548.23,211.44 548.65,211.57 549.06,211.08 549.48,211.27 549.90,211.45 550.31,211.14 550.73,211.33 551.14,211.23 551.56,211.30 551.98,211.53 552.39,211.14 552.81,211.28 553.23,211.50 553.64,211.44 554.06,211.11 554.47,211.35 554.89,211.26 555.31,211.14 555.72,211.23 556.14,211.53 556.56,211.11 556.97,211.05 557.39,211.05 557.80,210.90 558.22,211.13 558.64,211.04 559.05,210.88 559.47,211.23 559.89,210.83 560.30,210.82 560.72,210.99 561.13,210.79 561.55,210.96 561.97,211.28 562.38,210.89 562.80,211.04 563.21,211.01 563.63,211.05 564.05,210.81 564.46,210.96 564.88,211.18 565.30,210.95 565.71,210.90 566.13,211.16 566.54,211.10 566.96,211.08 567.38,211.11 567.79,210.92 568.21,210.78 568.63,210.61 569.04,210.73 569.46,210.76 569.87,210.72 570.29,210.68 570.71,210.99 571.12,210.78 571.54,210.84 571.95,210.92 572.37,210.97 572.79,210.97 573.20,210.92 573.62,211.09 574.04,210.75 574.45,210.84 574.87,210.81 575.28,210.75 575.70,210.67 576.12,210.91 576.53,210.81 576.95,211.09 577.37,211.19 577.78,211.13 578.20,210.46 578.61,211.09 579.03,210.64 579.45,210.44 579.86,210.80 580.28,210.40 580.70,210.34 581.11,210.51 581.53,210.23 581.94,210.55 582.36,210.80 582.78,210.55 583.19,210.72 583.61,210.88 584.02,210.86 584.44,210.17 584.86,210.70 585.27,210.60 585.69,210.71 586.11,210.55 586.52,210.61 586.94,210.63 587.35,210.77 587.77,210.80 588.19,210.67 588.60,210.46 589.02,210.11 589.44,210.30 589.85,210.14 590.27,210.39 590.68,210.48 591.10,210.71 591.52,210.45 591.93,210.85 592.35,210.49 592.76,210.11 593.18,210.35 593.60,210.19 594.01,210.47 594.43,210.65 594.85,210.47 595.26,210.44 595.68,210.13 596.09,209.97 596.51,210.48 596.93,210.40 597.34,210.35 597.76,210.38 598.18,210.54 598.59,210.27 599.01,210.21 599.42,210.20 599.84,210.49 600.26,210.28 600.67,210.57 601.09,210.06 601.51,210.42 601.92,210.27 602.34,210.29 602.75,210.31 603.17,210.39 603.59,210.52 604.00,209.84 604.42,210.11 604.83,210.10 605.25,209.75 605.67,210.15 606.08,210.02 606.50,210.11 606.92,209.88 607.33,210.00 607.75,210.03 608.16,210.13 608.58,210.02 609.00,209.84 609.41,210.45 609.83,210.07 610.25,210.11 610.66,210.08 611.08,210.39 611.49,209.87 611.91,210.16 612.33,210.03 612.74,210.08 613.16,210.29 613.58,210.05 613.99,210.30 614.41,210.12 614.82,209.99 615.24,209.93 615.66,209.91 616.07,209.93 616.49,209.49 616.90,209.81 617.32,210.11 617.74,209.99 618.15,209.99 618.57,209.89 618.99,209.96 619.40,210.00 619.82,209.51 620.23,209.81 620.65,209.87 621.07,209.85 621.48,209.83 621.90,209.52 622.32,209.68 622.73,209.55 623.15,210.35 623.56,209.69" fill="none" stroke="#0f4f2c" stroke-width="1.25" stroke-linejoin="round" stroke-linecap="butt"/>
<polyline points="353.45,255.31 353.87,259.60 354.28,256.00 354.70,251.76 355.11,250.65 355.53,248.83 355.95,247.99 356.36,247.38 356.78,247.58 357.20,247.92 357.61,246.90 358.03,245.12 358.44,248.34 358.86,243.93 359.28,244.80 359.69,243.26 360.11,246.36 360.53,244.28 360.94,245.69 361.36,249.36 361.77,243.82 362.19,244.19 362.61,240.57 363.02,246.19 363.44,246.06 363.86,241.38 364.27,242.43 364.69,243.36 365.10,247.94 365.52,243.01 365.94,240.63 366.35,237.57 366.77,233.74 367.18,235.82 367.60,238.63 368.02,235.80 368.43,237.33 368.85,240.18 369.27,237.82 369.68,236.74 370.10,238.21 370.51,235.17 370.93,233.70 371.35,237.65 371.76,226.26 372.18,239.57 372.60,225.87 373.01,236.81 373.43,231.52 373.84,238.00 374.26,231.52 374.68,225.72 375.09,236.82 375.51,231.58 375.92,231.11 376.34,230.61 376.76,235.41 377.17,234.51 377.59,231.03 378.01,223.05 378.42,229.30 378.84,229.95 379.25,239.28 379.67,231.06 380.09,228.15 380.50,235.06 380.92,227.88 381.34,228.65 381.75,229.07 382.17,221.94 382.58,237.71 383.00,230.14 383.42,226.75 383.83,221.63 384.25,228.97 384.66,235.35 385.08,224.37 385.50,221.76 385.91,229.80 386.33,220.61 386.75,220.48 387.16,225.04 387.58,223.47 387.99,225.55 388.41,224.16 388.83,228.78 389.24,225.51 389.66,223.46 390.08,224.41 390.49,229.90 390.91,231.34 391.32,231.29 391.74,230.06 392.16,219.30 392.57,220.49 392.99,224.60 393.41,227.21 393.82,219.23 394.24,233.41 394.65,227.27 395.07,222.39 395.49,226.20 395.90,224.05 396.32,221.78 396.73,227.99 397.15,222.59 397.57,218.71 397.98,222.04 398.40,224.14 398.82,219.25 399.23,230.86 399.65,219.29 400.06,232.87 400.48,228.43 400.90,219.75 401.31,224.70 401.73,229.67 402.15,223.19 402.56,219.80 402.98,224.30 403.39,232.90 403.81,217.84 404.23,225.89 404.64,223.43 405.06,222.70 405.47,221.88 405.89,221.71 406.31,227.73 406.72,225.75 407.14,218.84 407.56,229.22 407.97,217.15 408.39,225.57 408.80,223.56 409.22,227.40 409.64,223.94 410.05,226.27 410.47,222.42 410.89,226.36 411.30,223.48 411.72,230.37 412.13,219.20 412.55,226.26 412.97,223.12 413.38,222.40 413.80,219.58 414.22,223.50 414.63,216.39 415.05,216.24 415.46,223.89 415.88,216.09 416.30,226.20 416.71,219.81 417.13,221.78 417.54,221.37 417.96,222.38 418.38,225.96 418.79,219.79 419.21,220.15 419.63,223.80 420.04,223.76 420.46,224.52 420.87,221.57 421.29,219.87 421.71,215.58 422.12,222.15 422.54,222.90 422.96,218.68 423.37,222.45 423.79,224.36 424.20,220.07 424.62,223.12 425.04,220.84 425.45,218.00 425.87,217.93 426.28,218.11 426.70,220.87 427.12,217.15 427.53,218.30 427.95,216.38 428.37,219.51 428.78,220.52 429.20,222.55 429.61,221.26 430.03,219.49 430.45,219.77 430.86,219.38 431.28,219.46 431.70,223.59 432.11,214.57 432.53,218.54 432.94,219.53 433.36,222.15 433.78,215.81 434.19,219.46 434.61,221.14 435.03,217.26 435.44,214.46 435.86,217.95 436.27,215.03 436.69,220.51 437.11,215.84 437.52,223.55 437.94,219.05 438.35,216.00 438.77,216.76 439.19,215.19 439.60,219.41 440.02,221.93 440.44,217.74 440.85,220.55 441.27,215.61 441.68,218.80 442.10,227.32 442.52,214.27 442.93,220.90 443.35,220.67 443.77,214.04 444.18,220.50 444.60,215.19 445.01,226.03 445.43,217.41 445.85,217.45 446.26,219.11 446.68,217.58 447.10,217.98 447.51,216.81 447.93,220.09 448.34,218.56 448.76,221.24 449.18,216.39 449.59,215.08 450.01,218.77 450.42,217.90 450.84,213.78 451.26,217.74 451.67,213.68 452.09,215.27 452.51,218.62 452.92,215.08 453.34,217.64 453.75,216.09 454.17,221.31 454.59,216.47 455.00,214.02 455.42,214.21 455.84,214.16 456.25,216.87 456.67,216.72 457.08,218.50 457.50,216.69 457.92,216.50 458.33,216.79 458.75,216.28 459.16,216.80 459.58,217.84 460.00,218.02 460.41,215.02 460.83,217.48 461.25,214.55 461.66,216.58 462.08,213.12 462.49,215.18 462.91,217.02 463.33,214.82 463.74,213.29 464.16,220.16 464.58,218.98 464.99,215.23 465.41,219.04 465.82,218.71 466.24,213.07 466.66,221.37 467.07,213.69 467.49,215.71 467.90,213.42 468.32,215.82 468.74,212.94 469.15,215.67 469.57,217.37 469.99,216.11 470.40,215.21 470.82,218.81 471.23,213.68 471.65,217.62 472.07,214.85 472.48,215.76 472.90,215.45 473.32,215.90 473.73,215.28 474.15,213.60 474.56,214.21 474.98,216.00 475.40,214.89 475.81,212.98 476.23,213.67 476.65,213.36 477.06,214.75 477.48,215.52 477.89,215.13 478.31,213.85 478.73,215.37 479.14,212.08 479.56,211.79 479.97,214.77 480.39,211.80 480.81,218.06 481.22,212.51 481.64,216.08 482.06,212.20 482.47,215.40 482.89,213.64 483.30,212.57 483.72,211.79 484.14,215.39 484.55,215.75 484.97,216.20 485.39,218.39 485.80,215.41 486.22,215.10 486.63,214.17 487.05,215.04 487.47,214.48 487.88,212.59 488.30,218.41 488.72,211.63 489.13,214.83 489.55,215.57 489.96,214.40 490.38,212.40 490.80,214.17 491.21,213.13 491.63,211.92 492.04,214.29 492.46,213.01 492.88,213.30 493.29,215.49 493.71,211.84 494.13,215.45 494.54,212.72 494.96,214.95 495.37,214.22 495.79,214.73 496.21,212.04 496.62,212.70 497.04,212.49 497.46,214.39 497.87,215.64 498.29,215.73 498.70,213.18 499.12,214.19 499.54,211.04 499.95,210.96 500.37,211.99 500.78,212.92 501.20,210.97 501.62,210.97 502.03,214.76 502.45,212.02 502.87,210.72 503.28,218.23 503.70,214.38 504.11,212.63 504.53,214.73 504.95,212.10 505.36,216.54 505.78,210.85 506.20,211.25 506.61,213.33 507.03,212.10 507.44,216.27 507.86,210.96 508.28,212.13 508.69,213.77 509.11,223.06 509.52,215.27 509.94,214.41 510.36,217.52 510.77,212.47 511.19,213.88 511.61,215.22 512.02,212.61 512.44,212.87 512.85,212.29 513.27,212.11 513.69,211.00 514.10,212.23 514.52,210.76 514.94,213.87 515.35,210.52 515.77,216.79 516.18,216.31 516.60,215.19 517.02,212.52 517.43,212.43 517.85,215.13 518.27,213.16 518.68,213.94 519.10,211.54 519.51,214.74 519.93,211.44 520.35,213.13 520.76,210.28 521.18,214.45 521.59,214.02 522.01,212.57 522.43,212.14 522.84,214.29 523.26,212.67 523.68,215.29 524.09,210.58 524.51,213.78 524.92,214.02 525.34,210.12 525.76,210.41 526.17,214.12 526.59,210.51 527.01,211.52 527.42,213.90 527.84,212.34 528.25,213.71 528.67,211.12 529.09,213.60 529.50,214.59 529.92,213.24 530.34,209.91 530.75,213.86 531.17,212.70 531.58,211.12 532.00,215.18 532.42,210.32 532.83,215.91 533.25,211.13 533.66,217.38 534.08,212.39 534.50,210.33 534.91,212.42 535.33,213.25 535.75,213.31 536.16,214.36 536.58,211.05 536.99,213.15 537.41,213.77 537.83,211.93 538.24,210.68 538.66,210.72 539.08,213.82 539.49,213.74 539.91,210.99 540.32,209.98 540.74,214.71 541.16,210.06 541.57,212.77 541.99,211.00 542.40,209.74 542.82,212.32 543.24,212.30 543.65,214.84 544.07,216.75 544.49,212.15 544.90,214.19 545.32,214.55 545.73,211.68 546.15,210.68 546.57,215.08 546.98,211.60 547.40,212.32 547.82,211.28 548.23,211.99 548.65,211.28 549.06,213.19 549.48,219.44 549.90,211.57 550.31,209.48 550.73,212.20 551.14,209.43 551.56,210.94 551.98,214.48 552.39,216.02 552.81,212.73 553.23,210.39 553.64,213.60 554.06,209.31 554.47,210.90 554.89,214.73 555.31,213.23 555.72,209.57 556.14,209.73 556.56,213.39 556.97,211.74 557.39,210.78 557.80,212.40 558.22,210.89 558.64,209.24 559.05,213.07 559.47,210.86 559.89,209.84 560.30,209.25 560.72,212.20 561.13,210.14 561.55,212.83 561.97,211.58 562.38,213.56 562.80,211.12 563.21,210.63 563.63,209.25 564.05,209.65 564.46,212.99 564.88,217.31 565.30,209.52 565.71,209.84 566.13,212.52 566.54,212.70 566.96,210.66 567.38,212.10 567.79,209.12 568.21,211.03 568.63,212.95 569.04,214.35 569.46,211.22 569.87,211.03 570.29,212.23 570.71,213.69 571.12,212.39 571.54,210.29 571.95,212.30 572.37,213.42 572.79,210.49 573.20,211.74 573.62,212.74 574.04,212.14 574.45,213.28 574.87,211.72 575.28,210.39 575.70,210.67 576.12,209.88 576.53,209.92 576.95,210.87 577.37,211.11 577.78,213.82 578.20,209.08 578.61,211.76 579.03,210.38 579.45,215.45 579.86,212.01 580.28,210.50 580.70,212.52 581.11,211.38 581.53,210.16 581.94,213.97 582.36,212.79 582.78,214.30 583.19,213.48 583.61,212.98 584.02,211.85 584.44,209.05 584.86,212.69 585.27,211.48 585.69,212.63 586.11,211.29 586.52,210.18 586.94,209.65 587.35,212.74 587.77,213.79 588.19,210.93 588.60,212.00 589.02,213.26 589.44,209.62 589.85,210.31 590.27,209.22 590.68,213.27 591.10,211.92 591.52,210.41 591.93,209.05 592.35,210.94 592.76,212.59 593.18,210.60 593.60,210.22 594.01,212.33 594.43,209.29 594.85,211.31 595.26,212.23 595.68,209.55 596.09,209.31 596.51,211.66 596.93,210.98 597.34,210.70 597.76,211.49 598.18,211.68 598.59,211.48 599.01,209.83 599.42,211.72 599.84,213.17 600.26,213.35 600.67,209.89 601.09,212.69 601.51,212.47 601.92,210.98 602.34,211.88 602.75,212.48 603.17,214.20 603.59,209.48 604.00,211.62 604.42,210.63 604.83,210.51 605.25,212.46 605.67,212.30 606.08,209.05 606.50,210.39 606.92,211.03 607.33,208.36 607.75,212.25 608.16,214.60 608.58,211.05 609.00,211.68 609.41,214.27 609.83,210.89 610.25,210.27 610.66,213.78 611.08,210.30 611.49,209.74 611.91,208.57 612.33,212.62 612.74,211.29 613.16,211.84 613.58,211.08 613.99,210.83 614.41,209.55 614.82,209.43 615.24,211.41 615.66,210.87 616.07,213.44 616.49,208.97 616.90,209.74 617.32,209.15 617.74,213.06 618.15,208.67 618.57,211.94 618.99,213.13 619.40,210.52 619.82,211.49 620.23,208.02 620.65,209.98 621.07,208.05 621.48,210.87 621.90,210.29 622.32,213.45 622.73,211.89 623.15,211.70 623.56,209.56" fill="none" stroke="#4a0d5c" stroke-width="1.25" stroke-linejoin="round" stroke-linecap="butt"/>
</g>
<path d="M33.2,0.0 V148.0 M329.95,0.0 V148.0 M32.525000000000006,148.0 H330.625" stroke="#6e6e6e" stroke-width="1.35" fill="none"/>
<rect x="32.5" y="0" width="298.15" height="1" fill="#333"/>
<rect x="254.60" y="4.50" width="71.2" height="26.6" rx="1.8" fill="#fff" fill-opacity="0.8" stroke="#dcdcdc" stroke-width="0.9"/>
<path d="M257.20,11.50 H275.10" stroke="#0f4f2c" stroke-width="1.25"/>
<text x="281.30" y="15.05" style="font-family:'DejaVu Sans',sans-serif;font-size:8.4px">train</text>
<path d="M257.20,23.50 H275.10" stroke="#4a0d5c" stroke-width="1.25"/>
<text x="281.30" y="27.05" style="font-family:'DejaVu Sans',sans-serif;font-size:8.4px">validation</text>
<path d="M33.2,161.6 V309.0 M329.95,161.6 V309.0 M32.525000000000006,309.0 H330.625" stroke="#6e6e6e" stroke-width="1.35" fill="none"/>
<path d="M32.525000000000006,161.6 H330.625" stroke="#555" stroke-width="1.1" fill="none"/>
<rect x="254.60" y="277.40" width="71.2" height="26.6" rx="1.8" fill="#fff" fill-opacity="0.8" stroke="#dcdcdc" stroke-width="0.9"/>
<path d="M257.20,284.40 H275.10" stroke="#0f4f2c" stroke-width="1.25"/>
<text x="281.30" y="287.95" style="font-family:'DejaVu Sans',sans-serif;font-size:8.4px">train</text>
<path d="M257.20,296.40 H275.10" stroke="#4a0d5c" stroke-width="1.25"/>
<text x="281.30" y="299.95" style="font-family:'DejaVu Sans',sans-serif;font-size:8.4px">validation</text>
<path d="M340.0,0.0 V148.0 M636.45,0.0 V148.0 M339.325,148.0 H637.125" stroke="#6e6e6e" stroke-width="1.35" fill="none"/>
<rect x="339.3" y="0" width="297.85" height="1" fill="#333"/>
<rect x="561.40" y="4.50" width="71.2" height="26.6" rx="1.8" fill="#fff" fill-opacity="0.8" stroke="#dcdcdc" stroke-width="0.9"/>
<path d="M564.00,11.50 H581.90" stroke="#0f4f2c" stroke-width="1.25"/>
<text x="588.10" y="15.05" style="font-family:'DejaVu Sans',sans-serif;font-size:8.4px">train</text>
<path d="M564.00,23.50 H581.90" stroke="#4a0d5c" stroke-width="1.25"/>
<text x="588.10" y="27.05" style="font-family:'DejaVu Sans',sans-serif;font-size:8.4px">validation</text>
<path d="M340.0,161.6 V309.0 M636.45,161.6 V309.0 M339.325,309.0 H637.125" stroke="#6e6e6e" stroke-width="1.35" fill="none"/>
<path d="M339.325,161.6 H637.125" stroke="#555" stroke-width="1.1" fill="none"/>
<rect x="561.40" y="277.40" width="71.2" height="26.6" rx="1.8" fill="#fff" fill-opacity="0.8" stroke="#dcdcdc" stroke-width="0.9"/>
<path d="M564.00,284.40 H581.90" stroke="#0f4f2c" stroke-width="1.25"/>
<text x="588.10" y="287.95" style="font-family:'DejaVu Sans',sans-serif;font-size:8.4px">train</text>
<path d="M564.00,296.40 H581.90" stroke="#4a0d5c" stroke-width="1.25"/>
<text x="588.10" y="299.95" style="font-family:'DejaVu Sans',sans-serif;font-size:8.4px">validation</text>
<path d="M30.90,148.10 H33.2" stroke="#6e6e6e" stroke-width="1.35"/>
<text x="28.2" y="152.05" text-anchor="end" style="font-family:'DejaVu Sans',sans-serif;font-size:9.7px">0.0</text>
<path d="M30.90,121.18 H33.2" stroke="#6e6e6e" stroke-width="1.35"/>
<text x="28.2" y="125.13" text-anchor="end" style="font-family:'DejaVu Sans',sans-serif;font-size:9.7px">0.1</text>
<path d="M30.90,94.26 H33.2" stroke="#6e6e6e" stroke-width="1.35"/>
<text x="28.2" y="98.21" text-anchor="end" style="font-family:'DejaVu Sans',sans-serif;font-size:9.7px">0.2</text>
<path d="M30.90,67.34 H33.2" stroke="#6e6e6e" stroke-width="1.35"/>
<text x="28.2" y="71.29" text-anchor="end" style="font-family:'DejaVu Sans',sans-serif;font-size:9.7px">0.3</text>
<path d="M30.90,40.42 H33.2" stroke="#6e6e6e" stroke-width="1.35"/>
<text x="28.2" y="44.37" text-anchor="end" style="font-family:'DejaVu Sans',sans-serif;font-size:9.7px">0.4</text>
<path d="M30.90,13.50 H33.2" stroke="#6e6e6e" stroke-width="1.35"/>
<text x="28.2" y="17.45" text-anchor="end" style="font-family:'DejaVu Sans',sans-serif;font-size:9.7px">0.5</text>
<path d="M30.90,308.45 H33.2" stroke="#6e6e6e" stroke-width="1.35"/>
<text x="28.2" y="312.20" text-anchor="end" style="font-family:'DejaVu Sans',sans-serif;font-size:9.7px">0.7</text>
<path d="M30.90,261.00 H33.2" stroke="#6e6e6e" stroke-width="1.35"/>
<text x="28.2" y="264.75" text-anchor="end" style="font-family:'DejaVu Sans',sans-serif;font-size:9.7px">0.8</text>
<path d="M30.90,213.55 H33.2" stroke="#6e6e6e" stroke-width="1.35"/>
<text x="28.2" y="217.30" text-anchor="end" style="font-family:'DejaVu Sans',sans-serif;font-size:9.7px">0.9</text>
<path d="M30.90,166.10 H33.2" stroke="#6e6e6e" stroke-width="1.35"/>
<text x="28.2" y="169.85" text-anchor="end" style="font-family:'DejaVu Sans',sans-serif;font-size:9.7px">1.0</text>
<path d="M46.50,309.0 V311.10" stroke="#6e6e6e" stroke-width="1.35"/>
<text x="46.50" y="322.0" text-anchor="middle" style="font-family:'DejaVu Sans',sans-serif;font-size:9.7px">0</text>
<path d="M88.12,309.0 V311.10" stroke="#6e6e6e" stroke-width="1.35"/>
<text x="88.12" y="322.0" text-anchor="middle" style="font-family:'DejaVu Sans',sans-serif;font-size:9.7px">100</text>
<path d="M129.74,309.0 V311.10" stroke="#6e6e6e" stroke-width="1.35"/>
<text x="129.74" y="322.0" text-anchor="middle" style="font-family:'DejaVu Sans',sans-serif;font-size:9.7px">200</text>
<path d="M171.36,309.0 V311.10" stroke="#6e6e6e" stroke-width="1.35"/>
<text x="171.36" y="322.0" text-anchor="middle" style="font-family:'DejaVu Sans',sans-serif;font-size:9.7px">300</text>
<path d="M212.98,309.0 V311.10" stroke="#6e6e6e" stroke-width="1.35"/>
<text x="212.98" y="322.0" text-anchor="middle" style="font-family:'DejaVu Sans',sans-serif;font-size:9.7px">400</text>
<path d="M254.60,309.0 V311.10" stroke="#6e6e6e" stroke-width="1.35"/>
<text x="254.60" y="322.0" text-anchor="middle" style="font-family:'DejaVu Sans',sans-serif;font-size:9.7px">500</text>
<path d="M296.22,309.0 V311.10" stroke="#6e6e6e" stroke-width="1.35"/>
<text x="296.22" y="322.0" text-anchor="middle" style="font-family:'DejaVu Sans',sans-serif;font-size:9.7px">600</text>
<text x="181.57" y="334.1" text-anchor="middle" style="font-family:'DejaVu Sans',sans-serif;font-size:10.2px">Epoch</text>
<path d="M353.45,309.0 V311.10" stroke="#6e6e6e" stroke-width="1.35"/>
<text x="353.45" y="322.0" text-anchor="middle" style="font-family:'DejaVu Sans',sans-serif;font-size:9.7px">0</text>
<path d="M395.07,309.0 V311.10" stroke="#6e6e6e" stroke-width="1.35"/>
<text x="395.07" y="322.0" text-anchor="middle" style="font-family:'DejaVu Sans',sans-serif;font-size:9.7px">100</text>
<path d="M436.69,309.0 V311.10" stroke="#6e6e6e" stroke-width="1.35"/>
<text x="436.69" y="322.0" text-anchor="middle" style="font-family:'DejaVu Sans',sans-serif;font-size:9.7px">200</text>
<path d="M478.31,309.0 V311.10" stroke="#6e6e6e" stroke-width="1.35"/>
<text x="478.31" y="322.0" text-anchor="middle" style="font-family:'DejaVu Sans',sans-serif;font-size:9.7px">300</text>
<path d="M519.93,309.0 V311.10" stroke="#6e6e6e" stroke-width="1.35"/>
<text x="519.93" y="322.0" text-anchor="middle" style="font-family:'DejaVu Sans',sans-serif;font-size:9.7px">400</text>
<path d="M561.55,309.0 V311.10" stroke="#6e6e6e" stroke-width="1.35"/>
<text x="561.55" y="322.0" text-anchor="middle" style="font-family:'DejaVu Sans',sans-serif;font-size:9.7px">500</text>
<path d="M603.17,309.0 V311.10" stroke="#6e6e6e" stroke-width="1.35"/>
<text x="603.17" y="322.0" text-anchor="middle" style="font-family:'DejaVu Sans',sans-serif;font-size:9.7px">600</text>
<text x="488.23" y="334.1" text-anchor="middle" style="font-family:'DejaVu Sans',sans-serif;font-size:10.2px">Epoch</text>
<text transform="translate(7.8,74.6) rotate(-90)" text-anchor="middle" style="font-family:'DejaVu Sans',sans-serif;font-size:10.45px">Loss</text>
<text transform="translate(7.8,234.75) rotate(-90)" text-anchor="middle" style="font-family:'DejaVu Sans',sans-serif;font-size:10.45px">Accuracy</text>
</svg>
</body></html>
